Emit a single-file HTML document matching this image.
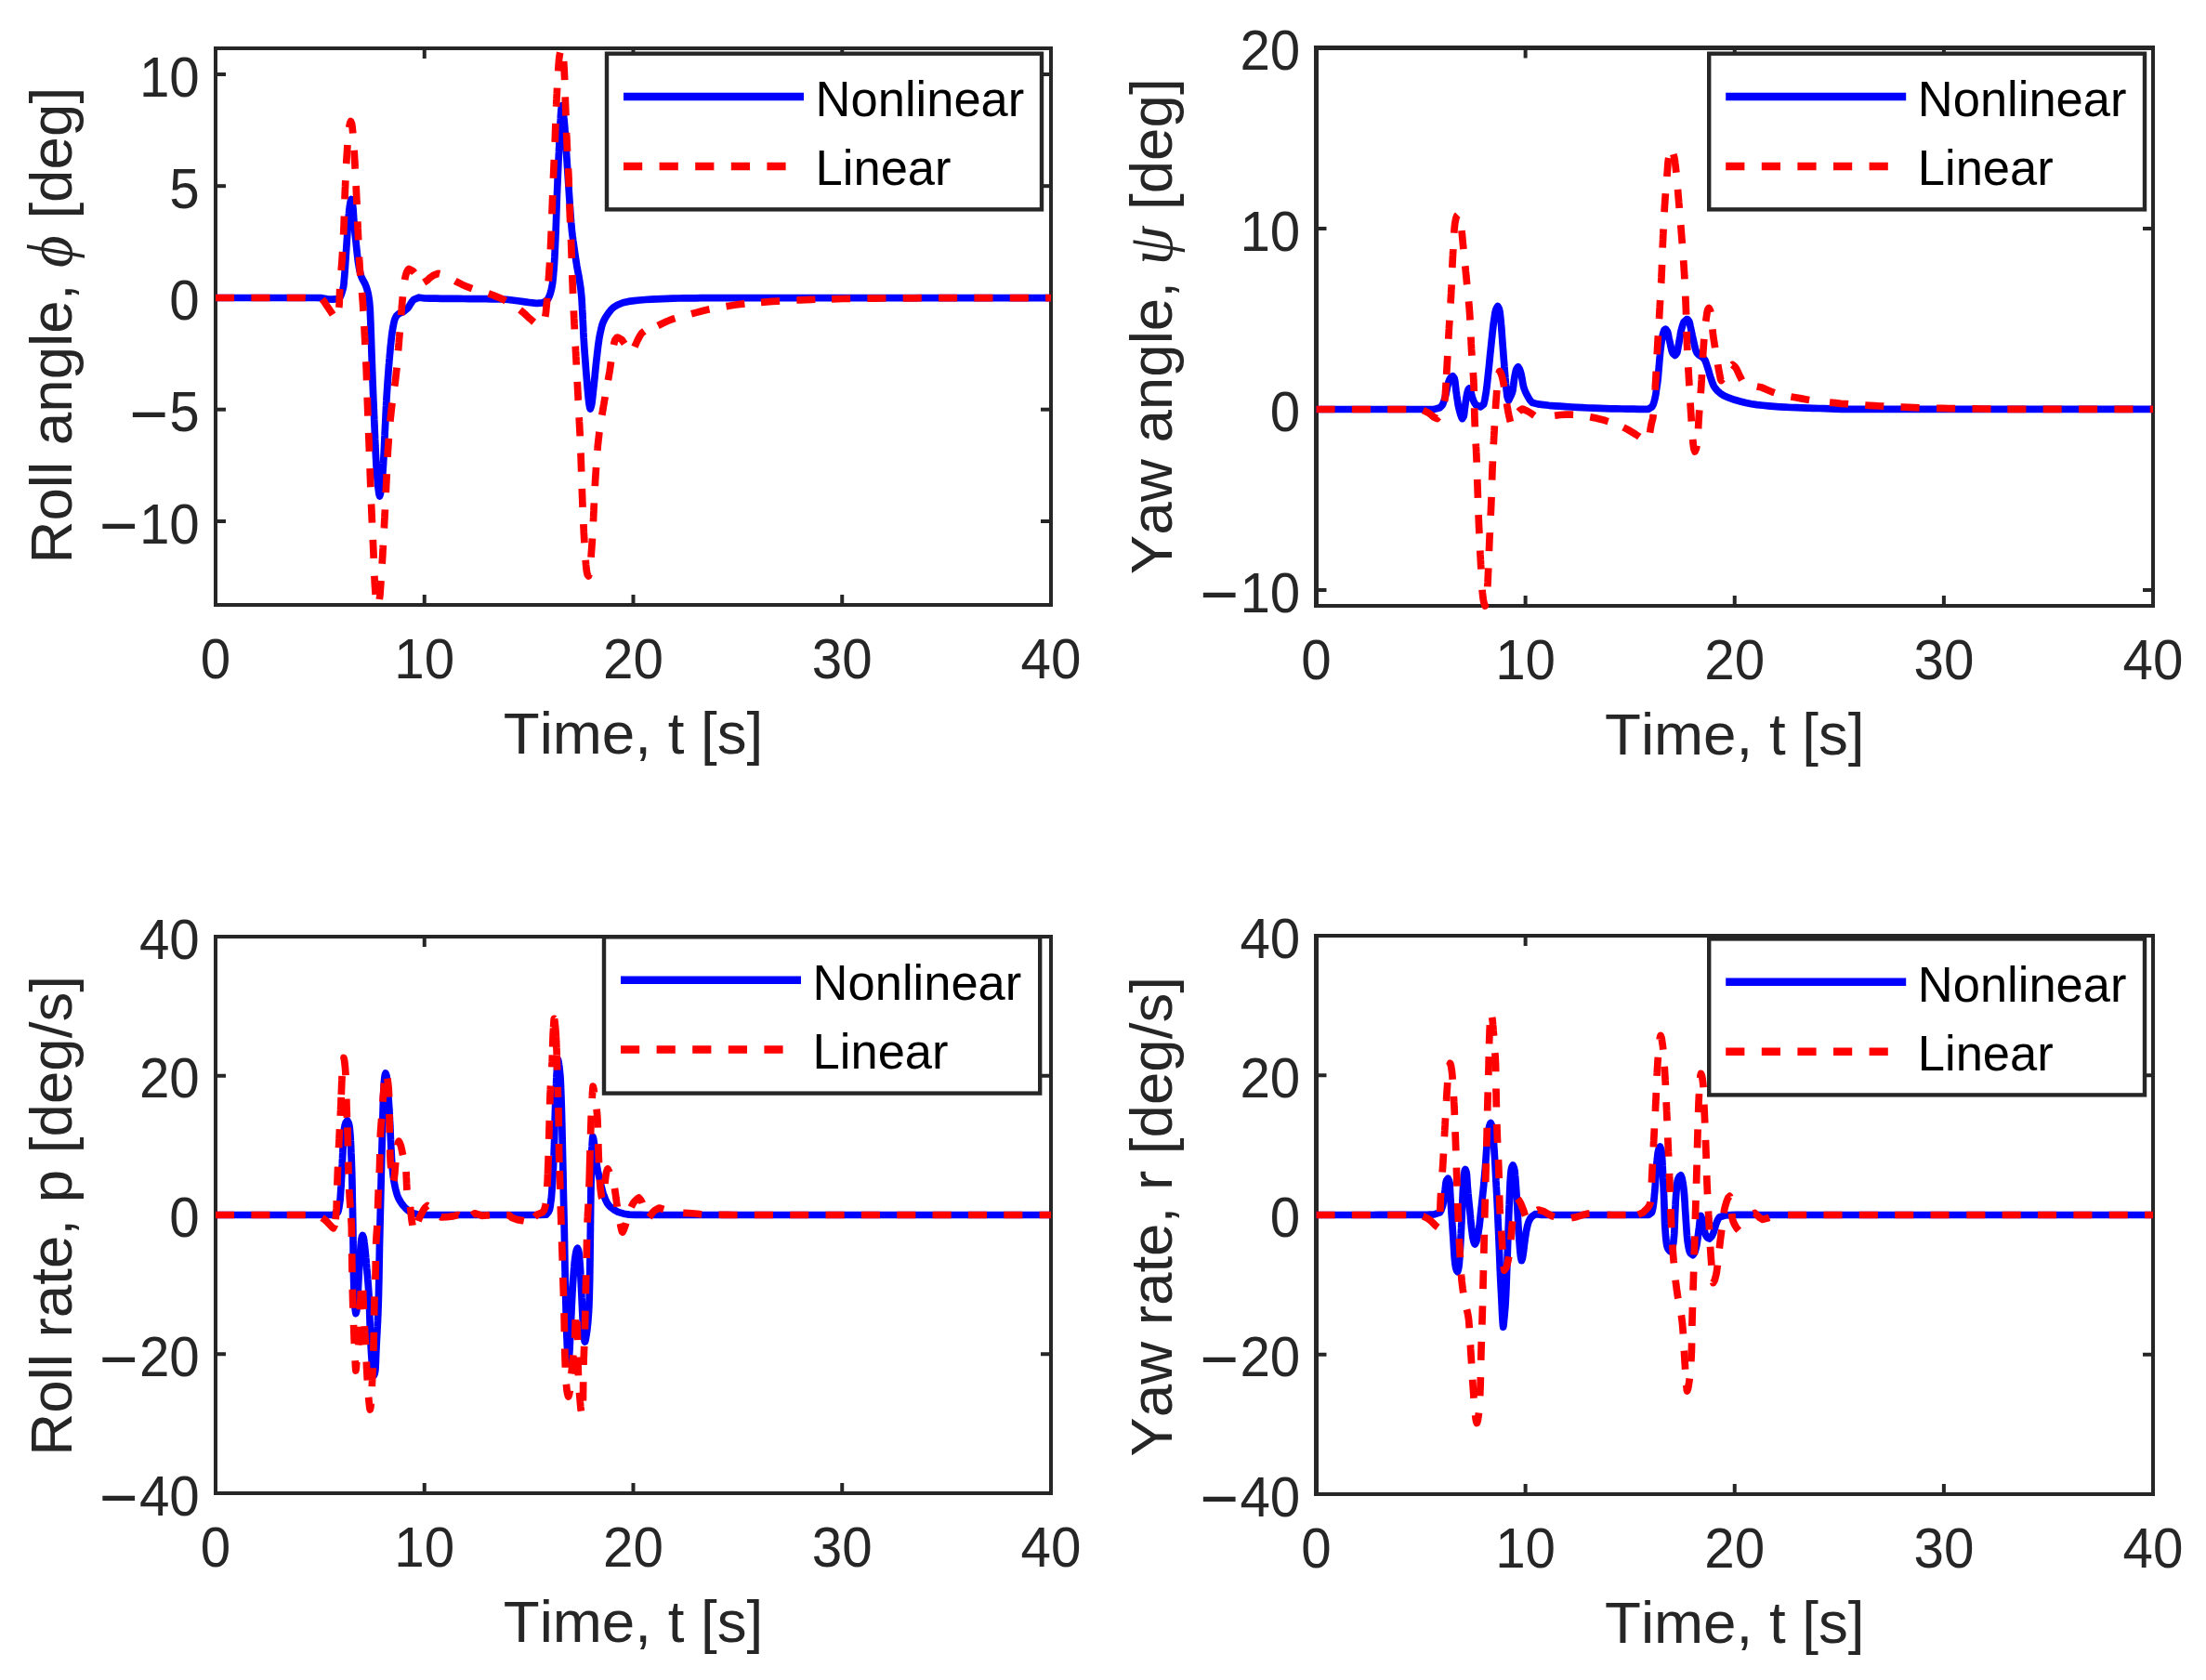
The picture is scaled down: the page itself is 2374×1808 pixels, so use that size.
<!DOCTYPE html>
<html lang="en"><head><meta charset="utf-8"><title>Lateral response: nonlinear vs linear</title>
<style>html,body{margin:0;padding:0;background:#fff}svg{display:block}text{font-family:'Liberation Sans', Arial, Helvetica, sans-serif;font-kerning:none;font-variant-ligatures:none}.tk{font-size:58.33px;fill:#262626}.lb{font-size:63.7px;fill:#262626}.lg{font-size:52.5px;fill:#000}.mn{font-size:71.5px;fill:#262626}.gk{font-family:"Liberation Serif","DejaVu Serif",serif;font-style:italic;font-size:67px}</style></head><body>
<svg width="2374" height="1808" viewBox="0 0 2374 1808">
<rect width="2374" height="1808" fill="#fff"/>
<g id="ax1">
<clipPath id="c1"><rect x="228" y="48" width="907" height="607"/></clipPath>
<g fill="#262626">
<rect x="230" y="50" width="4" height="603"/>
<rect x="1129" y="50" width="4" height="603"/>
<rect x="230" y="50" width="903" height="4"/>
<rect x="230" y="649" width="903" height="4"/>
<rect x="454.75" y="640" width="4" height="11"/>
<rect x="454.75" y="52" width="4" height="11"/>
<rect x="679.5" y="640" width="4" height="11"/>
<rect x="679.5" y="52" width="4" height="11"/>
<rect x="904.25" y="640" width="4" height="11"/>
<rect x="904.25" y="52" width="4" height="11"/>
<rect x="232" y="78" width="11" height="4"/>
<rect x="1120" y="78" width="11" height="4"/>
<rect x="232" y="198.2" width="11" height="4"/>
<rect x="1120" y="198.2" width="11" height="4"/>
<rect x="232" y="318.5" width="11" height="4"/>
<rect x="1120" y="318.5" width="11" height="4"/>
<rect x="232" y="438.7" width="11" height="4"/>
<rect x="1120" y="438.7" width="11" height="4"/>
<rect x="232" y="559" width="11" height="4"/>
<rect x="1120" y="559" width="11" height="4"/>
</g>
<text class="tk" text-anchor="middle" transform="translate(232 730.3) scale(1 1.04)">0</text>
<text class="tk" text-anchor="middle" transform="translate(456.75 730.3) scale(1 1.04)">10</text>
<text class="tk" text-anchor="middle" transform="translate(681.5 730.3) scale(1 1.04)">20</text>
<text class="tk" text-anchor="middle" transform="translate(906.25 730.3) scale(1 1.04)">30</text>
<text class="tk" text-anchor="middle" transform="translate(1131 730.3) scale(1 1.04)">40</text>
<text class="tk" text-anchor="end" transform="translate(214.8 103.5) scale(1 1.04)">10</text>
<text class="tk" text-anchor="end" transform="translate(214.8 223.7) scale(1 1.04)">5</text>
<text class="tk" text-anchor="end" transform="translate(214.8 344) scale(1 1.04)">0</text>
<text class="tk" text-anchor="end" transform="translate(214.8 464.2) scale(1 1.04)">5</text>
<text class="mn" text-anchor="end" x="181.16" y="470">−</text>
<text class="tk" text-anchor="end" transform="translate(214.8 584.5) scale(1 1.04)">10</text>
<text class="mn" text-anchor="end" x="148.71" y="590.3">−</text>
<text class="lb" text-anchor="middle" transform="translate(681.5 811.3) scale(1 1)">Time, t [s]</text>
<text class="lb" text-anchor="middle" transform="translate(76.8 350.25) rotate(-90) scale(1 1)" xml:space="preserve">Roll angle, <tspan class="gk">ϕ</tspan> [deg]</text>
<g clip-path="url(#c1)" fill="none" stroke-width="7.7" stroke-linejoin="round">
<path stroke="#0000ff" d="M232.0 320.5L238.0 320.5L244.0 320.5L250.0 320.5L256.0 320.5L262.0 320.5L268.0 320.5L274.0 320.5L280.0 320.5L286.0 320.5L292.0 320.5L298.0 320.5L304.0 320.5L310.0 320.5L316.0 320.5L322.0 320.5L328.0 320.5L334.0 320.5L340.0 320.5L346.0 320.7L352.0 321.8L358.0 322.1L364.0 321.6L366.4 319.1L367.5 316.4L368.2 313.8L369.0 311.3L369.6 308.6L370.0 305.7L370.2 302.9L370.5 299.9L370.7 297.4L370.9 294.8L371.1 292.3L371.3 289.5L371.5 286.5L371.7 283.4L371.9 280.3L372.1 277.2L372.3 274.3L372.5 271.3L372.7 268.2L372.9 265.1L373.1 262.0L373.3 258.9L373.5 255.9L373.7 252.9L373.9 249.9L374.1 247.1L374.3 244.4L374.5 241.8L374.7 238.8L375.0 235.9L375.2 232.9L375.5 230.1L375.7 227.5L376.0 224.7L376.4 221.9L376.8 219.3L377.3 216.6L378.1 214.5L379.0 217.1L379.4 219.9L379.8 222.8L380.1 225.7L380.3 228.7L380.5 231.9L380.7 235.1L380.9 238.1L381.1 240.6L381.3 243.4L381.6 246.0L381.8 248.6L382.1 251.5L382.4 254.3L382.7 257.1L383.0 259.9L383.3 262.9L383.6 265.8L383.9 268.7L384.2 271.6L384.5 274.4L384.8 277.1L385.2 280.0L385.5 282.5L386.0 285.3L386.4 287.8L386.9 290.3L387.5 292.9L388.1 295.4L389.0 298.0L390.1 300.5L391.6 303.1L392.9 305.6L393.9 308.1L394.8 310.7L395.5 313.2L396.1 315.7L396.6 318.3L397.0 320.8L397.4 323.5L397.7 326.2L397.9 328.8L398.1 331.3L398.3 333.9L398.4 337.0L398.6 340.4L398.7 344.1L398.9 347.8L399.0 351.5L399.1 354.2L399.2 357.0L399.3 359.9L399.4 362.9L399.5 365.9L399.6 369.0L399.7 372.1L399.8 375.2L399.9 378.3L400.0 381.3L400.1 384.2L400.2 387.0L400.3 389.8L400.4 392.5L400.5 395.2L400.6 397.9L400.7 400.6L400.8 403.3L400.9 406.0L401.0 408.7L401.1 411.3L401.2 413.9L401.3 416.5L401.4 419.1L401.5 421.7L401.6 424.3L401.7 426.8L401.8 429.3L402.0 433.1L402.1 436.8L402.3 440.4L402.4 444.0L402.6 447.6L402.7 451.2L402.9 454.9L403.0 458.5L403.2 462.2L403.3 465.8L403.5 469.4L403.6 472.9L403.8 476.4L403.9 479.8L404.1 483.1L404.2 486.3L404.4 489.4L404.5 492.3L404.7 495.1L404.8 497.8L405.0 501.0L405.2 504.0L405.4 506.9L405.6 509.7L405.8 512.4L406.0 514.9L406.3 517.9L406.5 520.6L406.8 523.4L407.2 526.2L407.5 528.9L407.9 531.6L408.6 534.0L409.4 531.3L409.8 528.7L410.2 526.1L410.5 523.5L410.8 520.8L411.1 518.3L411.3 515.5L411.6 512.6L411.8 510.0L412.0 507.4L412.2 504.6L412.4 501.7L412.6 498.7L412.7 496.1L412.9 493.4L413.0 490.5L413.2 487.5L413.3 484.3L413.5 481.1L413.6 477.9L413.8 474.6L413.9 471.4L414.1 468.2L414.2 465.0L414.4 462.0L414.5 458.9L414.7 455.8L414.8 452.6L415.0 449.5L415.1 446.3L415.3 443.1L415.4 440.0L415.6 437.0L415.7 434.0L415.9 431.2L416.0 428.4L416.2 425.8L416.4 422.6L416.6 419.4L416.8 416.4L417.0 413.4L417.2 410.5L417.4 407.7L417.6 404.9L417.8 402.3L418.0 399.7L418.2 397.1L418.4 394.1L418.7 391.1L418.9 388.1L419.2 385.3L419.4 382.5L419.7 379.7L419.9 376.9L420.2 374.2L420.4 371.6L420.7 369.1L421.0 366.2L421.3 363.6L421.6 360.7L422.0 357.9L422.4 355.3L422.8 352.8L423.3 350.2L423.8 347.6L424.4 345.0L425.3 342.5L426.7 339.9L429.5 337.4L435.0 334.9L438.0 332.4L440.1 329.9L441.6 327.3L443.2 324.8L445.4 322.3L451.0 320.2L457.0 321.0L463.0 321.1L469.0 321.2L475.0 321.3L481.0 321.3L487.0 321.4L493.0 321.4L499.0 321.5L505.0 321.6L511.0 321.6L517.0 321.7L523.0 321.7L529.0 321.8L535.0 321.9L541.0 322.0L547.0 322.5L553.0 323.2L559.0 324.0L565.0 324.9L571.0 325.7L577.0 326.3L578.0 326.3L584.0 325.8L588.6 323.3L590.2 320.8L591.4 318.2L592.3 315.6L593.0 313.0L593.6 310.4L594.1 307.8L594.6 305.1L594.9 302.3L595.2 299.5L595.5 296.8L595.7 293.9L596.0 290.9L596.2 288.3L596.4 285.5L596.6 282.3L596.7 279.8L596.9 277.0L597.0 274.1L597.2 271.1L597.3 267.9L597.5 264.6L597.6 261.3L597.8 257.8L597.9 254.3L598.1 250.7L598.2 247.0L598.3 244.3L598.4 241.5L598.5 238.5L598.6 235.5L598.7 232.4L598.8 229.3L598.9 226.1L599.0 223.0L599.1 219.9L599.2 217.0L599.3 214.1L599.4 211.4L599.5 208.8L599.6 206.2L599.7 203.7L599.8 201.2L600.0 197.5L600.1 193.8L600.3 190.3L600.4 186.8L600.6 183.3L600.7 179.9L600.9 176.6L601.0 173.3L601.2 170.1L601.3 166.9L601.5 163.7L601.6 160.6L601.8 157.6L601.9 154.5L602.1 151.6L602.2 148.6L602.4 145.7L602.5 142.8L602.7 139.9L602.8 137.1L603.0 134.2L603.1 131.2L603.3 128.0L603.4 125.0L603.6 122.2L603.8 119.5L604.1 116.9L604.5 114.2L604.7 113.9L605.4 116.5L605.9 119.3L606.3 122.1L606.6 125.0L606.9 127.8L607.2 130.3L607.4 133.0L607.7 135.8L607.9 138.9L608.1 141.7L608.3 144.7L608.5 147.8L608.7 151.0L608.9 154.3L609.1 157.5L609.3 160.7L609.5 163.8L609.7 166.8L609.9 169.8L610.1 172.8L610.3 175.8L610.5 178.9L610.7 181.9L610.9 184.9L611.1 187.9L611.3 190.9L611.5 193.9L611.7 197.0L611.9 200.0L612.1 203.1L612.3 206.2L612.5 209.3L612.7 212.3L612.9 215.3L613.1 218.2L613.3 221.0L613.5 223.8L613.7 226.6L613.9 229.5L614.1 232.2L614.3 235.0L614.5 237.6L614.7 240.1L615.0 243.0L615.2 245.7L615.5 248.6L615.8 251.3L616.1 253.8L616.5 256.6L616.8 259.3L617.2 261.9L617.6 264.7L618.0 267.5L618.4 270.4L618.8 273.2L619.2 275.9L619.6 278.5L620.0 281.1L620.4 283.6L620.8 286.4L621.3 289.0L621.8 291.7L622.3 294.3L622.8 296.8L623.3 299.6L623.7 302.3L624.1 304.9L624.5 307.6L624.9 310.1L625.2 313.0L625.5 315.9L625.8 318.6L626.0 321.2L626.2 324.3L626.3 326.9L626.5 329.6L626.6 332.4L626.8 335.3L626.9 338.1L627.1 341.0L627.2 344.0L627.4 347.2L627.5 350.5L627.7 353.9L627.8 357.2L628.0 360.3L628.1 363.2L628.3 365.8L628.5 369.1L628.7 372.2L628.9 375.2L629.1 378.0L629.3 380.8L629.5 383.4L629.7 386.0L629.9 388.6L630.1 391.1L630.3 394.2L630.5 396.7L630.7 399.2L630.9 401.8L631.1 404.3L631.3 406.8L631.6 409.9L631.8 412.9L632.1 415.9L632.3 418.8L632.6 421.5L632.8 424.2L633.1 427.1L633.4 429.9L633.7 432.6L634.1 435.4L634.6 438.2L635.2 440.0L636.2 437.4L636.8 434.8L637.2 432.1L637.5 429.3L637.8 426.7L638.1 424.0L638.4 421.2L638.7 418.4L639.0 415.7L639.3 413.0L639.6 410.1L639.9 407.1L640.2 404.5L640.4 401.9L640.7 399.3L640.9 396.7L641.2 394.2L641.5 391.2L641.8 388.4L642.1 385.8L642.4 383.1L642.7 380.5L643.0 377.9L643.3 375.4L643.6 372.6L644.0 369.9L644.4 367.1L644.8 364.3L645.3 361.6L645.8 359.0L646.4 356.3L647.0 353.7L647.6 351.1L648.4 348.5L649.4 346.0L650.6 343.5L652.1 340.9L653.8 338.4L655.6 335.8L657.6 333.3L660.3 330.8L664.4 328.3L670.4 325.8L676.4 324.4L682.4 323.6L688.4 323.0L694.4 322.5L700.4 322.2L706.4 321.9L712.4 321.6L718.4 321.3L724.4 321.1L730.4 321.0L736.4 320.9L742.4 320.8L748.4 320.8L754.4 320.7L760.4 320.7L766.4 320.6L772.4 320.6L778.4 320.6L784.4 320.6L790.4 320.6L796.4 320.6L802.4 320.6L808.4 320.6L814.4 320.6L820.4 320.6L826.4 320.6L832.4 320.6L838.4 320.6L844.4 320.6L850.4 320.6L856.4 320.6L862.4 320.6L868.4 320.6L874.4 320.6L880.4 320.6L886.4 320.6L892.4 320.6L898.4 320.6L904.4 320.6L910.4 320.6L916.4 320.6L922.4 320.6L928.4 320.6L934.4 320.6L940.4 320.6L946.4 320.6L952.4 320.6L958.4 320.6L964.4 320.6L970.4 320.6L976.4 320.6L982.4 320.6L988.4 320.6L994.4 320.6L1000.4 320.6L1006.4 320.6L1012.4 320.6L1018.4 320.6L1024.4 320.6L1030.4 320.6L1036.4 320.6L1042.4 320.6L1048.4 320.6L1054.4 320.6L1060.4 320.6L1066.4 320.6L1072.4 320.6L1078.4 320.6L1084.4 320.6L1090.4 320.6L1096.4 320.6L1102.4 320.6L1108.4 320.6L1114.4 320.6L1120.4 320.6L1126.4 320.6L1131.0 320.6"/>
<g stroke="#ff0000" stroke-dasharray="20.1 18.25">
<path d="M232.0 320.5L238.0 320.5L244.0 320.5L250.0 320.5L256.0 320.5L262.0 320.5L268.0 320.5L274.0 320.5L280.0 320.5L286.0 320.5L292.0 320.5L298.0 320.5L304.0 320.5L310.0 320.5L316.0 320.5L322.0 320.5L328.0 320.5L334.0 320.8L340.0 321.0L346.0 321.8L346.7 322.0"/>
<path d="M346.7 322.0L348.8 324.5L350.4 327.1L352.1 329.6L353.8 332.1L355.5 334.6L357.2 337.2L358.9 339.8L360.5 342.3L361.5 343.0L363.0 340.3L363.5 337.7L364.0 335.0L364.6 332.3L364.9 329.7L365.2 326.4L365.3 322.6L365.4 319.8L365.5 316.8L365.6 313.9L365.7 311.3L365.9 308.3L366.0 305.8L366.2 302.7L366.4 300.0L366.6 297.4L366.9 294.4L367.0 293.3"/>
<path d="M367.2 291.0L367.4 288.1L367.7 284.9L367.9 282.2L368.1 279.2L368.3 276.1L368.5 273.0L368.7 269.7L368.9 266.4L369.0 263.8L369.2 261.1L369.3 258.4L369.5 255.5L369.6 252.6L369.8 249.5L369.9 246.3L370.1 243.0L370.2 239.5L370.3 236.8L370.4 234.0L370.5 231.0L370.6 227.9L370.7 224.7L370.8 221.4L370.9 218.2L371.0 215.1L371.1 212.0L371.2 209.1L371.3 206.3L371.4 203.8L371.6 200.2L371.7 196.8L371.9 193.4L372.0 190.1L372.2 186.9L372.3 183.8L372.5 180.8L372.6 177.9L372.8 175.1L372.9 172.4L373.1 169.8L373.3 166.5L373.5 163.3L373.7 160.3L373.9 157.2L374.1 154.3L374.3 151.6L374.5 148.9L374.7 145.9L375.0 143.3L375.3 140.6L375.6 138.3"/>
<path d="M375.7 137.2L376.2 134.6L376.8 132.0L377.5 130.6L378.6 133.3L379.0 136.1L379.3 138.9L379.6 141.5L379.8 144.2L380.1 147.3L380.3 150.0L380.5 152.8L380.7 155.8L380.9 158.9L381.1 162.1L381.3 165.4L381.5 168.7L381.7 172.0L381.8 174.6L382.0 177.2L382.1 179.9L382.3 182.7L382.4 185.5L382.6 188.4L382.7 191.4L382.9 194.4L383.0 197.4L383.2 200.5L383.3 203.6L383.5 206.8L383.6 210.1L383.8 213.5L383.9 217.0L384.1 220.6L384.2 224.2L384.4 227.9L384.5 231.6L384.7 235.2L384.8 238.8L385.0 242.3L385.1 245.7L385.3 249.1L385.4 252.5L385.6 255.9L385.7 259.4L385.9 262.8L386.0 266.2L386.2 269.5L386.3 272.7L386.5 275.8L386.6 278.7L386.8 281.5L386.9 284.1L387.1 287.2L387.3 290.1L387.5 292.8L387.7 295.3L388.0 298.3L388.2 301.1L388.5 303.8L388.7 306.3L389.0 308.9L389.2 311.5L389.5 314.1L389.7 316.8L390.0 319.8L390.2 322.9L390.4 325.6L390.6 328.5L390.8 331.5L391.0 334.8L391.2 337.3L391.3 339.9L391.5 342.6L391.6 345.4L391.8 348.1L391.9 350.9"/>
<path d="M391.9 350.9L392.1 353.8L392.2 356.7L392.4 359.5L392.5 362.4L392.7 365.3L392.8 368.2L393.0 371.1L393.1 374.1L393.3 377.1L393.4 380.2L393.6 383.4L393.7 386.6L393.9 389.9L394.0 393.3L394.2 396.9L394.3 400.5L394.4 403.1L394.5 405.8L394.6 408.6L394.7 411.5L394.8 414.5L394.9 417.6L395.0 420.7L395.1 423.8L395.2 426.9L395.3 429.9L395.4 432.9L395.5 435.8L395.6 438.6L395.7 441.3L395.8 443.9L395.9 446.5L396.0 449.1L396.1 451.6L396.3 455.4L396.4 459.1L396.6 462.8L396.7 466.5L396.8 469.0L396.9 471.5L397.0 474.1L397.1 476.7L397.2 479.3L397.3 482.0L397.4 484.7L397.5 487.5L397.6 490.2L397.7 493.0L397.8 495.7L397.9 498.5L398.0 501.2L398.1 504.0L398.2 506.7L398.3 509.4L398.4 512.1L398.5 514.8L398.6 517.5L398.7 520.1L398.8 522.8L398.9 525.4L399.0 528.1L399.1 530.7L399.2 533.4L399.3 536.0L399.4 538.6L399.5 541.1L399.6 543.7L399.8 547.4L399.9 551.0L400.1 554.6L400.2 558.0L400.4 561.3L400.5 564.5L400.7 567.7L400.8 570.8L401.0 573.9L401.1 577.0L401.3 580.1L401.4 583.3L401.6 586.5L401.7 589.8L401.9 593.1L402.0 596.7L402.1 599.2L402.2 601.8L402.3 604.4L402.4 607.1L402.5 609.7L402.6 612.3L402.7 614.9L402.8 617.4L402.9 618.6"/>
<path d="M402.9 619.8L403.1 623.3L403.2 626.4L403.4 629.2L403.6 632.3L403.8 635.3L404.0 637.9L404.2 640.7L404.5 643.3L404.9 646.1L405.7 648.6L406.4 649.5L407.9 646.8L408.3 645.0"/>
<path d="M408.3 645.0L408.7 642.2L409.0 639.5L409.2 636.5L409.4 634.0L409.6 631.3L409.8 628.3L410.0 625.0L410.2 622.5L410.3 619.9L410.5 617.4L410.7 614.2L410.9 611.1L411.1 608.0L411.3 604.9L411.5 601.7L411.7 598.5L411.9 595.2L412.0 592.6L412.2 590.0L412.3 587.3L412.5 584.7L412.6 582.0L412.8 579.2L412.9 576.5L413.1 573.7L413.2 570.9L413.4 568.0L413.5 565.2L413.7 562.3L413.8 559.4L414.0 556.5L414.1 553.6L414.3 550.6L414.4 547.5L414.6 544.5L414.7 541.4L414.9 538.3L415.0 535.1L415.2 532.0L415.3 528.9L415.5 525.8L415.6 522.7L415.8 519.6L415.9 516.6L416.1 513.4L416.2 510.2L416.4 506.9L416.5 503.7L416.7 500.4L416.8 497.2L417.0 494.1L417.1 491.1L417.3 488.2L417.4 485.4L417.6 482.9L417.8 479.8L418.0 476.8L418.2 474.0L418.4 471.3L418.6 468.7L418.8 466.2L419.0 463.1L419.3 460.2L419.5 457.4L419.8 454.7L420.0 452.1L420.3 449.6L420.6 446.6L420.9 443.8L421.2 441.0L421.5 438.4L421.8 435.6L422.2 432.9L422.5 430.4L422.9 427.6L423.3 425.0L423.7 422.3L424.1 419.6L424.5 416.9L424.9 414.1L425.3 411.4L425.6 408.6L425.9 406.1L426.2 403.4L426.5 400.5L426.8 397.9L427.0 395.3L427.3 392.5L427.5 389.7L427.8 386.8L428.0 383.8L428.3 380.8L428.5 377.8L428.8 374.8L429.0 371.8L429.3 368.8L429.5 365.8L429.8 362.8L430.0 359.7L430.2 357.2L430.4 354.6L430.6 352.0L430.8 349.5L431.0 346.9L431.2 344.3L431.4 341.8L431.7 338.7L431.9 335.7L432.2 332.8L432.4 330.0L432.7 327.3L432.9 324.5L433.2 321.7L433.4 318.9L433.7 316.2L433.9 313.6L434.2 310.7L434.5 308.0L434.9 305.2L435.3 302.7L435.8 300.1L436.3 297.5L437.0 294.9L437.9 292.3L439.5 289.8L440.0 289.5L444.7 292.0L446.8 294.6L448.6 297.1L450.5 299.7L452.1 302.2L454.3 304.3L456.2 303.9"/>
<path d="M456.2 303.9L460.1 301.4L462.8 298.8L466.3 296.3L471.4 294.3L477.4 295.8L483.0 298.3L487.2 300.8L491.5 303.3L496.7 305.9L502.3 308.4L508.3 310.7L514.3 312.6L520.3 314.2L525.1 315.7"/>
<path d="M525.7 315.9L531.7 318.1L537.7 320.6L543.0 323.1L547.7 325.6L551.9 328.1L555.7 330.6L559.2 333.1L562.3 335.7L565.1 338.2L567.8 340.7L570.5 343.2L573.4 345.7L576.4 348.3L581.0 349.8L584.2 347.3L585.6 344.7L586.4 342.1L587.0 339.4L587.4 336.8L587.7 334.0L587.9 331.5L588.2 328.8L588.4 326.1L588.7 323.3L588.9 320.3L589.1 317.8L589.3 315.1L589.5 312.3L589.7 309.5L589.9 306.7L590.1 303.9L590.3 301.2L590.5 298.5L590.7 295.7L590.9 292.9L591.1 290.1L591.3 287.2L591.5 284.1L591.7 281.0L591.9 277.7L592.1 275.1L592.2 272.4L592.4 269.6L592.4 268.6"/>
<path d="M592.4 268.6L592.6 265.5L592.7 262.1L592.9 258.5L593.0 255.9L593.1 253.3L593.2 250.7L593.3 248.0L593.4 245.2L593.5 242.5L593.6 239.8L593.7 237.1L593.8 234.4L593.9 231.8L594.0 229.2L594.1 226.7L594.2 224.1L594.3 221.5L594.4 218.9L594.5 216.3L594.6 213.7L594.7 211.2L594.8 208.6L594.9 206.0L595.0 203.5L595.1 201.0L595.2 197.2L595.4 193.6L595.5 190.0L595.7 186.6L595.8 183.3L596.0 180.0L596.1 176.7L596.3 173.5L596.4 170.3L596.6 167.0L596.7 163.7L596.9 160.3L597.0 156.7L597.1 154.3"/>
<path d="M597.2 153.0L597.3 150.5L597.4 147.8L597.5 145.0L597.6 142.1L597.7 139.2L597.8 136.3L597.9 133.4L598.0 130.5L598.1 127.7L598.2 125.0L598.3 122.3L598.4 119.8L598.5 116.2L598.7 112.9L598.8 109.7L599.0 106.7L599.1 103.7L599.3 100.9L599.4 98.1L599.6 95.4L599.7 92.8L599.9 90.2L600.0 87.6L600.2 85.0L600.3 82.4L600.5 79.8L600.6 77.2"/>
<path d="M600.7 76.4L600.9 73.2L601.1 70.2L601.3 67.6L601.5 65.0L601.8 62.2L602.2 59.5L602.7 56.8L603.4 54.3L603.8 53.8L604.9 56.5L605.6 59.2L606.1 61.7L606.5 64.3L606.6 66.1"/>
<path d="M606.6 66.1L606.8 69.0L607.0 72.3L607.2 75.1L607.3 78.0L607.5 81.6L607.6 84.2L607.7 87.0L607.8 90.0L607.9 93.1L608.0 96.3L608.1 99.5L608.2 102.7L608.3 105.8L608.4 109.0L608.5 112.0L608.6 114.8L608.7 117.5L608.8 120.2L608.9 122.9L609.0 125.6L609.1 128.2L609.2 130.9L609.3 133.5L609.4 136.1L609.5 138.6L609.6 141.2L609.7 144.9L609.9 148.5L610.0 152.0L610.2 155.4L610.3 158.6L610.5 161.7L610.6 164.6L610.8 167.4L610.9 170.2L611.1 173.0L611.2 175.8L611.4 178.6L611.5 181.5L611.7 184.6L611.8 187.8L612.0 191.2L612.1 194.9L612.2 197.6L612.3 200.4L612.4 203.4L612.5 206.4L612.6 209.5L612.7 212.6L612.8 215.8L612.9 218.9L613.0 222.0L613.1 224.9L613.2 227.8L613.3 230.5L613.4 233.1L613.5 235.6L613.7 239.2L613.8 242.7L614.0 246.2L614.1 249.6L614.3 252.9L614.4 256.4L614.6 259.9L614.7 263.5L614.8 266.0L614.9 268.6L615.0 271.3L615.1 274.1L615.2 277.0L615.3 280.0L615.4 283.1L615.5 286.1L615.6 289.2L615.7 292.3L615.8 295.3L615.9 298.3L616.0 301.2L616.1 304.0L616.2 306.7L616.3 309.3L616.4 311.9L616.5 314.4L616.7 318.1L616.8 321.8L617.0 325.3L617.1 328.8L617.3 332.2L617.4 335.6L617.6 338.9L617.7 342.2L617.9 345.3L618.0 348.4L618.2 351.4L618.3 354.4L618.5 357.4L618.6 360.3L618.8 363.2L618.9 366.1L619.1 369.1L619.2 372.0L619.4 374.9L619.5 377.7L619.7 380.6L619.8 383.4L620.0 386.2L620.1 389.0L620.3 391.9L620.4 394.7L620.6 397.5L620.7 400.4L620.9 403.3L621.0 406.2L621.2 409.1L621.3 412.1L621.5 415.1L621.6 418.1L621.8 421.1L621.9 424.1L622.1 427.1L622.2 430.2L622.4 433.2L622.5 436.2L622.7 439.3L622.8 442.3L623.0 445.3L623.1 448.2L623.3 451.1L623.4 453.9L623.6 456.7L623.7 459.6L623.9 462.4L624.0 465.3L624.2 468.2L624.3 471.3L624.5 474.4L624.6 477.7L624.8 481.2L624.9 484.9L625.0 487.6L625.1 490.4L625.2 493.3L625.3 496.3L625.4 499.4L625.5 502.5L625.6 505.6L625.7 508.7L625.8 511.8L625.9 514.8L626.0 517.7L626.1 520.5L626.2 523.2L626.3 525.9L626.4 528.7L626.5 531.3L626.6 534.0L626.7 536.7L626.8 539.3L626.9 541.9L627.0 544.4L627.1 546.9L627.3 550.6L627.4 554.1L627.6 557.5L627.7 560.8L627.9 563.9L628.0 567.0L628.2 570.1L628.3 573.0L628.5 575.9L628.6 578.6L628.8 581.3L628.9 583.8L629.1 587.1L629.3 590.3L629.5 593.4L629.7 596.4L629.9 599.3L630.1 602.1"/>
<path d="M630.2 602.8L630.4 605.3L630.6 608.1L630.9 610.9L631.2 613.4L631.6 615.9L632.2 618.5L633.3 620.0L634.4 617.3L634.9 614.7L635.2 612.1L635.4 609.5L635.6 606.6L635.8 603.5L636.0 600.4L636.2 597.4L636.4 594.6L636.6 591.9L636.8 589.1L637.0 586.3L637.2 583.4L637.4 580.4L637.6 577.4L637.8 574.1L637.9 571.6L638.1 569.0L638.2 566.2L638.4 563.2L638.5 559.9L638.7 556.4L638.8 552.9L639.0 549.4L639.1 545.9L639.3 542.6L639.4 539.5L639.6 536.6L639.7 533.7L639.9 530.8L640.0 528.0L640.2 525.2L640.3 522.6L640.5 519.9L640.6 517.4L640.8 514.1L641.0 511.0L641.2 508.0L641.4 505.0L641.6 502.0L641.8 499.1L642.0 496.3L642.2 493.5L642.4 490.8L642.6 488.2L642.8 485.6L643.1 482.6L643.3 479.8L643.6 477.2L643.9 474.3L644.2 471.7L644.5 469.2L644.8 466.4L645.2 463.7L645.5 461.2L645.9 458.4L646.3 455.8L646.7 453.3L647.2 450.6L647.6 447.9L648.1 445.3L648.5 442.7L649.0 440.0L649.4 437.3L649.9 434.6L650.3 431.9L650.8 429.3L651.2 426.8L651.7 424.3L652.2 421.5L652.7 418.8L653.2 416.1L653.7 413.3L654.2 410.6L654.6 408.1L655.1 405.5L655.5 402.8L656.0 400.1L656.4 397.3L656.8 394.6L657.2 392.1L657.5 389.5L657.9 386.8L658.2 384.2L658.6 381.7L659.0 378.9L659.4 376.4L659.9 373.7L660.5 371.0L661.1 368.5L661.8 365.9L663.8 363.4L664.8 363.0L669.1 365.5L670.9 368.1L672.6 370.6L674.3 373.1L676.2 375.6L678.3 378.1L679.5 378.8L681.8 376.2L682.8 373.7L683.9 371.1L685.1 368.5L686.3 365.9L687.6 363.4L689.0 360.9L690.7 358.4L694.2 355.9L700.2 353.4L706.2 351.2L708.0 350.5"/>
<path d="M708.0 350.5L713.0 348.0L718.4 345.5L724.4 343.2L730.4 341.3L736.4 339.7L742.4 338.2L748.4 336.6L754.4 335.0L760.4 333.5L766.4 332.3L772.4 331.2L778.4 330.1L784.4 329.2L790.4 328.2L796.4 327.4L802.4 326.7L808.4 326.2L814.4 325.7L819.0 325.3"/>
<path d="M819.0 325.3L825.0 324.9L831.0 324.4L837.0 324.1L843.0 323.7L849.0 323.4L855.0 323.1L861.0 322.9L867.0 322.6L873.0 322.4L879.0 322.2L885.0 322.1L891.0 321.9L895.0 321.8"/>
<path d="M895.0 321.8L901.0 321.7L907.0 321.5L913.0 321.4L919.0 321.3L925.0 321.2L931.0 321.2L937.0 321.1L943.0 321.1L949.0 321.0L955.0 321.0L961.0 320.9L967.0 320.9L973.0 320.8L979.0 320.8L985.0 320.8L991.0 320.7L997.0 320.7L1003.0 320.7L1009.0 320.7L1015.0 320.7L1021.0 320.7L1027.0 320.7L1033.0 320.7L1039.0 320.6L1045.0 320.6L1051.0 320.6L1057.0 320.6L1063.0 320.6L1069.0 320.6L1075.0 320.6L1081.0 320.6L1087.0 320.6L1093.0 320.6L1099.0 320.6L1105.0 320.6L1111.0 320.6L1117.0 320.6L1123.0 320.6L1129.0 320.6L1131.0 320.6"/>
</g>
</g>
<rect x="653" y="57.7" width="468" height="167.7" fill="#fff" stroke="#262626" stroke-width="4.4"/>
<path d="M671 104.1H865" stroke="#0000ff" stroke-width="8.5" fill="none"/>
<path d="M671 179H846" stroke="#ff0000" stroke-width="8.5" stroke-dasharray="20.2 18.4" fill="none"/>
<text class="lg" transform="translate(877.6 125.1) scale(1 1.02)">Nonlinear</text>
<text class="lg" transform="translate(877.6 199.3) scale(1 1.02)">Linear</text>
</g>
<g id="ax2">
<clipPath id="c2"><rect x="1412" y="47" width="909" height="609"/></clipPath>
<g fill="#262626">
<rect x="1414" y="49" width="5" height="605"/>
<rect x="2315" y="49" width="4" height="605"/>
<rect x="1414" y="49" width="905" height="5"/>
<rect x="1414" y="650" width="905" height="4"/>
<rect x="1639.62" y="641" width="4" height="11"/>
<rect x="1639.62" y="51.5" width="4" height="11"/>
<rect x="1864.75" y="641" width="4" height="11"/>
<rect x="1864.75" y="51.5" width="4" height="11"/>
<rect x="2089.88" y="641" width="4" height="11"/>
<rect x="2089.88" y="51.5" width="4" height="11"/>
<rect x="1416.5" y="244" width="11" height="4"/>
<rect x="2306" y="244" width="11" height="4"/>
<rect x="1416.5" y="438.5" width="11" height="4"/>
<rect x="2306" y="438.5" width="11" height="4"/>
<rect x="1416.5" y="633" width="11" height="4"/>
<rect x="2306" y="633" width="11" height="4"/>
</g>
<text class="tk" text-anchor="middle" transform="translate(1416.5 731.3) scale(1 1.04)">0</text>
<text class="tk" text-anchor="middle" transform="translate(1641.62 731.3) scale(1 1.04)">10</text>
<text class="tk" text-anchor="middle" transform="translate(1866.75 731.3) scale(1 1.04)">20</text>
<text class="tk" text-anchor="middle" transform="translate(2091.88 731.3) scale(1 1.04)">30</text>
<text class="tk" text-anchor="middle" transform="translate(2317 731.3) scale(1 1.04)">40</text>
<text class="tk" text-anchor="end" transform="translate(1399.3 75) scale(1 1.04)">20</text>
<text class="tk" text-anchor="end" transform="translate(1399.3 269.5) scale(1 1.04)">10</text>
<text class="tk" text-anchor="end" transform="translate(1399.3 464) scale(1 1.04)">0</text>
<text class="tk" text-anchor="end" transform="translate(1399.3 658.5) scale(1 1.04)">10</text>
<text class="mn" text-anchor="end" x="1333.21" y="664.3">−</text>
<text class="lb" text-anchor="middle" transform="translate(1866.75 812.3) scale(1 1)">Time, t [s]</text>
<text class="lb" text-anchor="middle" transform="translate(1261.3 351.25) rotate(-90) scale(1 1)" xml:space="preserve">Yaw angle, <tspan class="gk">ψ</tspan> [deg]</text>
<g clip-path="url(#c2)" fill="none" stroke-width="7.7" stroke-linejoin="round">
<path stroke="#0000ff" d="M1416.5 440.5L1422.5 440.5L1428.6 440.5L1434.6 440.5L1440.7 440.5L1446.7 440.5L1452.8 440.5L1458.8 440.5L1464.9 440.5L1470.9 440.5L1477.0 440.5L1483.0 440.5L1489.1 440.5L1495.1 440.5L1501.2 440.5L1507.2 440.5L1513.3 440.5L1519.3 440.5L1525.4 440.5L1531.4 440.5L1537.5 440.5L1543.5 440.4L1549.6 438.7L1552.1 436.1L1553.2 433.6L1554.1 431.0L1554.9 428.4L1555.6 425.9L1556.2 423.3L1556.7 420.7L1557.2 418.2L1557.7 415.6L1558.4 413.1L1559.2 410.5L1560.2 407.9L1562.1 405.4L1563.4 404.8L1565.2 407.3L1565.8 410.0L1566.1 412.8L1566.4 415.4L1566.7 418.1L1567.0 420.8L1567.4 423.4L1567.7 426.0L1568.1 428.6L1568.5 431.3L1568.9 433.8L1569.3 436.3L1569.9 439.0L1570.5 441.5L1571.2 444.1L1572.0 446.8L1572.9 449.3L1573.7 450.5L1575.2 448.0L1575.7 445.3L1576.0 442.3L1576.3 439.8L1576.7 437.1L1577.0 434.4L1577.4 431.9L1577.8 429.3L1578.2 426.8L1578.7 424.2L1579.3 421.7L1580.1 419.2L1581.0 418.0L1582.7 420.6L1583.2 423.2L1583.8 425.7L1584.6 428.3L1585.5 430.8L1586.7 433.4L1588.5 435.9L1593.4 437.8L1596.6 435.3L1597.3 432.7L1597.9 430.0L1598.4 427.3L1598.8 424.7L1599.3 421.9L1599.6 419.4L1600.0 416.6L1600.3 414.0L1600.6 411.2L1600.9 408.4L1601.2 405.6L1601.5 402.7L1601.8 399.9L1602.1 397.1L1602.4 394.3L1602.7 391.3L1603.0 388.3L1603.2 385.8L1603.5 383.3L1603.7 380.8L1604.0 378.3L1604.3 375.3L1604.6 372.4L1604.9 369.6L1605.2 366.7L1605.5 363.9L1605.8 361.0L1606.1 358.2L1606.4 355.5L1606.7 352.8L1607.0 350.3L1607.3 347.5L1607.7 345.0L1608.1 342.2L1608.5 339.5L1608.9 336.9L1609.5 334.3L1610.4 331.7L1611.8 329.5L1613.2 332.1L1613.9 334.7L1614.3 337.4L1614.6 340.1L1614.9 343.1L1615.2 345.7L1615.4 348.4L1615.7 351.4L1615.9 354.0L1616.1 356.7L1616.3 359.5L1616.5 362.3L1616.7 365.1L1616.9 367.8L1617.1 370.5L1617.3 373.1L1617.5 375.8L1617.7 378.4L1617.9 381.1L1618.1 383.7L1618.3 386.3L1618.5 388.9L1618.7 391.5L1618.9 394.6L1619.2 397.7L1619.4 400.7L1619.7 403.8L1619.9 406.8L1620.2 409.8L1620.4 412.6L1620.7 415.2L1621.0 418.1L1621.3 420.8L1621.6 423.5L1621.9 426.2L1622.5 428.7L1623.5 431.0L1624.8 428.5L1626.0 425.9L1627.1 423.3L1627.9 420.6L1628.3 417.7L1628.7 415.0L1629.0 412.2L1629.4 409.4L1629.7 406.9L1630.2 404.3L1630.7 401.8L1631.3 399.1L1632.2 396.6L1633.7 394.8L1635.4 397.4L1636.3 400.0L1637.0 402.5L1637.5 405.0L1638.0 407.6L1638.4 410.3L1638.9 412.9L1639.4 415.5L1640.2 418.1L1641.2 420.7L1642.3 423.2L1643.6 425.7L1645.1 428.3L1646.6 430.8L1648.8 433.3L1654.8 434.9L1660.9 435.6L1666.9 436.3L1673.0 436.8L1679.0 437.2L1685.1 437.6L1691.1 438.0L1697.2 438.3L1703.2 438.7L1709.3 439.0L1715.3 439.2L1721.4 439.4L1727.4 439.6L1733.5 439.8L1739.5 439.9L1745.6 440.0L1751.6 440.1L1757.7 440.2L1763.7 440.3L1769.8 440.3L1774.0 440.3L1777.9 437.7L1779.2 435.2L1780.0 432.6L1780.7 430.0L1781.3 427.4L1781.8 424.7L1782.2 422.0L1782.6 419.1L1783.0 416.5L1783.4 413.9L1783.8 411.1L1784.1 408.5L1784.4 405.8L1784.6 402.8L1784.9 399.7L1785.1 396.8L1785.4 393.9L1785.6 390.9L1785.9 388.0L1786.1 385.1L1786.4 382.3L1786.6 379.7L1786.9 376.9L1787.3 374.0L1787.6 371.2L1788.0 368.7L1788.4 365.9L1788.8 363.2L1789.3 360.6L1790.0 358.0L1790.9 355.4L1792.5 354.2L1794.5 356.8L1795.2 359.4L1795.7 362.1L1796.2 364.6L1796.8 367.1L1797.4 369.8L1797.9 372.4L1798.5 375.0L1799.1 377.5L1800.0 380.1L1802.6 382.5L1804.7 379.9L1805.3 377.3L1805.8 374.7L1806.2 372.2L1806.7 369.6L1807.2 367.0L1807.6 364.3L1808.1 361.6L1808.5 359.1L1809.0 356.5L1809.7 353.8L1810.4 351.2L1811.2 348.7L1812.3 346.1L1815.3 343.6L1816.0 343.5L1817.8 346.0L1818.6 348.6L1819.1 351.3L1819.7 353.9L1820.2 356.4L1820.8 359.0L1821.3 361.6L1821.9 364.1L1822.5 366.8L1823.1 369.5L1823.7 372.1L1824.3 374.7L1825.0 377.3L1826.1 379.8L1828.6 382.3L1832.6 384.8L1834.8 387.4L1835.8 390.0L1836.7 392.6L1837.5 395.1L1838.3 397.7L1839.1 400.2L1839.8 402.8L1840.6 405.4L1841.5 408.0L1842.3 410.5L1843.3 413.1L1844.4 415.6L1846.1 418.1L1848.3 420.7L1851.2 423.2L1855.1 425.7L1860.7 428.2L1866.7 430.3L1872.8 432.0L1878.8 433.5L1884.9 434.7L1890.9 435.6L1897.0 436.3L1903.0 436.9L1909.1 437.4L1915.1 437.8L1921.2 438.2L1927.2 438.5L1933.3 438.7L1939.3 438.9L1945.4 439.1L1951.4 439.3L1957.5 439.5L1963.5 439.7L1969.6 439.9L1975.6 440.1L1981.7 440.3L1987.7 440.4L1993.8 440.4L1999.8 440.4L2005.9 440.4L2011.9 440.4L2018.0 440.4L2024.0 440.4L2030.1 440.4L2036.1 440.4L2042.2 440.4L2048.2 440.4L2054.3 440.4L2060.3 440.4L2066.4 440.4L2072.4 440.4L2078.5 440.4L2084.5 440.4L2090.6 440.4L2096.6 440.4L2102.7 440.4L2108.7 440.4L2114.8 440.4L2120.8 440.4L2126.9 440.4L2132.9 440.4L2139.0 440.4L2145.0 440.4L2151.1 440.4L2157.1 440.4L2163.2 440.4L2169.2 440.4L2175.3 440.4L2181.3 440.4L2187.4 440.4L2193.4 440.4L2199.5 440.4L2205.5 440.4L2211.6 440.4L2217.6 440.4L2223.7 440.4L2229.7 440.4L2235.8 440.4L2241.8 440.4L2247.9 440.4L2253.9 440.4L2260.0 440.4L2266.0 440.4L2272.1 440.4L2278.1 440.4L2284.2 440.4L2290.2 440.4L2296.3 440.4L2302.3 440.4L2308.4 440.4L2314.4 440.4L2317.0 440.4"/>
<g stroke="#ff0000" stroke-dasharray="20.1 18.25">
<path d="M1416.5 440.5L1422.5 440.5L1428.6 440.5L1434.6 440.5L1440.7 440.5L1446.7 440.5L1452.8 440.5L1458.8 440.5L1464.9 440.5L1470.9 440.5L1477.0 440.5L1483.0 440.5L1489.1 440.5L1495.1 440.5L1501.2 440.5L1507.2 440.5L1513.3 440.5L1519.3 440.5L1525.4 440.7L1531.4 441.4L1536.7 443.9L1540.2 446.5L1543.1 449.0L1546.5 450.5L1549.0 447.9L1550.0 445.4L1550.7 442.7L1551.3 440.2L1552.1 437.6L1553.3 435.0L1554.3 432.4L1554.9 429.8L1555.2 427.1L1555.4 424.1L1555.6 421.2L1555.8 418.1L1556.0 414.8L1556.2 412.1L1556.3 409.4L1556.5 406.7L1556.6 403.9L1556.7 403.0"/>
<path d="M1556.7 403.0L1556.8 400.3L1557.0 397.6L1557.1 394.9L1557.3 392.4L1557.4 389.9L1557.6 387.3L1557.7 384.6L1557.9 381.8L1558.0 379.0L1558.2 376.2L1558.3 373.3L1558.5 370.5L1558.6 367.6L1558.8 364.7L1558.9 361.9L1559.1 359.1L1559.2 356.4L1559.4 353.7L1559.5 351.1L1559.7 348.6L1559.9 345.3L1560.1 342.1L1560.3 338.9L1560.5 335.8L1560.7 332.6L1560.9 329.3L1561.1 326.0L1561.2 323.4L1561.4 320.8L1561.5 318.0L1561.7 315.2L1561.8 312.2L1562.0 308.9L1562.1 305.5L1562.3 301.9L1562.4 298.3L1562.6 294.6L1562.7 291.0L1562.9 287.4L1563.0 284.0L1563.2 280.8L1563.3 277.7L1563.5 274.9L1563.6 272.1L1563.8 269.2L1563.9 266.4L1564.1 263.6L1564.2 260.8L1564.4 258.1L1564.5 255.5L1564.7 252.2L1564.8 250.7"/>
<path d="M1564.8 250.7L1565.0 247.8L1565.2 245.2L1565.5 242.6L1565.8 240.0L1566.3 237.4L1566.8 234.9L1567.8 232.3L1569.1 231.0L1570.8 233.6L1571.5 236.3L1571.9 239.1L1572.3 241.9L1572.7 244.6L1573.0 247.4L1573.2 249.9L1573.5 252.7L1573.7 255.5L1574.0 258.3L1574.2 261.0L1574.5 263.5L1574.7 266.0L1575.0 268.5L1575.3 271.5L1575.6 274.5L1575.9 277.5L1576.2 280.4L1576.5 283.4L1576.8 286.4L1577.1 289.4L1577.3 291.9L1577.6 294.5L1577.8 297.0L1578.1 299.6L1578.3 302.2L1578.6 305.1L1578.9 308.0L1579.2 310.9L1579.5 313.8L1579.8 316.7L1580.1 319.2L1580.3 321.8L1580.6 324.6L1580.8 327.4L1581.1 330.4L1581.3 333.0L1581.5 335.7L1581.7 338.5L1581.9 341.7L1582.0 344.4L1582.2 347.3L1582.3 350.4L1582.5 353.6L1582.6 356.9L1582.8 360.2L1582.9 363.5L1583.1 366.7L1583.2 369.9L1583.4 372.9L1583.5 375.7L1583.7 378.3L1583.9 381.4L1584.1 384.3L1584.3 386.9L1584.5 389.5L1584.7 392.6L1584.9 395.1L1585.1 397.8L1585.3 400.7L1585.5 403.9L1585.7 406.5L1585.8 409.3L1586.0 412.4L1586.1 416.0L1586.2 419.0L1586.3 422.6L1586.4 426.7L1586.5 431.0L1586.6 435.5L1586.7 439.9L1586.8 444.1L1586.9 448.0L1587.0 451.4L1587.1 454.3L1587.2 456.8L1587.4 460.4L1587.5 463.7L1587.7 466.8L1587.8 469.6L1588.0 472.4L1588.1 475.1L1588.3 477.7L1588.4 480.5L1588.6 483.4L1588.7 486.4L1588.9 489.7L1589.0 493.3L1589.1 495.9L1589.2 498.6L1589.3 501.5L1589.4 504.4L1589.5 507.4L1589.6 510.4L1589.7 513.5L1589.8 516.6L1589.9 519.6L1590.0 522.7L1590.1 525.6L1590.2 528.6L1590.3 531.4L1590.4 534.3L1590.5 537.2L1590.6 540.1L1590.7 543.0L1590.8 545.9L1590.9 548.7L1591.0 551.6L1591.1 554.4L1591.2 557.1L1591.3 559.8L1591.4 562.4L1591.5 565.0L1591.7 568.6L1591.8 572.1L1592.0 575.5L1592.1 578.7L1592.3 581.9L1592.4 585.1L1592.6 588.1L1592.7 591.1L1592.9 594.0L1593.0 596.9L1593.2 599.7L1593.3 602.5L1593.5 605.3L1593.6 608.0L1593.8 610.8L1593.9 613.7L1594.1 616.5L1594.2 619.4L1594.4 622.3L1594.5 625.0L1594.7 627.7L1594.8 630.3"/>
<path d="M1595.1 634.8L1595.3 637.4L1595.6 640.0L1595.9 642.8L1596.3 645.4L1596.8 647.9L1597.5 650.5L1598.2 652.0L1599.2 649.4L1599.7 646.6L1600.0 643.7L1600.2 640.7L1600.4 638.1L1600.6 635.3L1600.8 632.8L1600.9 629.8L1601.1 626.7L1601.2 623.3L1601.4 620.0L1601.5 616.6L1601.7 612.9L1601.8 610.4L1601.9 607.8L1602.0 605.2L1602.1 602.6L1602.2 599.9L1602.3 597.2L1602.4 594.6L1602.5 592.0L1602.6 589.4L1602.7 586.9L1602.8 583.3L1603.0 579.8L1603.1 576.6L1603.3 573.5L1603.4 570.5L1603.6 567.5L1603.7 564.6L1603.9 561.7L1604.0 558.7L1604.2 555.6L1604.3 552.4L1604.5 549.1L1604.6 545.5L1604.8 541.7L1604.9 538.9L1605.0 536.0L1605.1 532.9L1605.2 529.7L1605.3 526.5L1605.4 523.3L1605.5 520.1L1605.6 517.0L1605.7 513.9L1605.8 511.0L1605.9 508.3L1606.0 505.7L1606.1 502.1L1606.3 498.7L1606.4 495.3L1606.6 492.1L1606.7 489.0L1606.9 486.0L1607.0 483.0L1607.2 480.1L1607.3 477.3L1607.5 474.5L1607.6 471.7L1607.8 468.9L1607.9 466.2L1608.1 463.4L1608.2 460.7L1608.4 457.9L1608.5 455.2L1608.7 452.5L1608.8 449.9L1609.0 447.3L1609.1 444.7L1609.3 442.2L1609.5 438.9L1609.7 435.8L1609.9 432.8L1610.1 430.0L1610.3 427.3L1610.5 424.5L1610.7 421.8L1610.9 419.1L1611.1 416.5L1611.3 413.4L1611.6 410.6L1611.9 407.7L1612.3 405.0L1612.8 402.4L1613.6 399.8L1614.0 399.5L1615.3 402.0L1616.2 404.6L1616.9 407.2L1617.5 409.9L1618.0 412.7L1618.5 415.3L1619.0 418.0L1619.5 420.6L1619.9 423.2L1620.3 426.0L1620.7 428.8L1621.1 431.6L1621.5 434.2L1621.9 436.9L1622.4 439.4L1622.8 441.9L1623.3 444.6L1623.8 447.1L1624.4 449.7L1625.0 452.2L1625.7 454.8L1626.6 456.5L1628.2 454.0L1629.5 451.4L1630.7 448.9L1632.1 446.3L1633.7 443.8L1636.0 441.3L1638.5 440.0L1643.9 442.5L1648.0 445.0L1651.6 447.5L1657.6 449.6L1660.0 449.8L1666.0 449.0L1668.2 448.5"/>
<path d="M1673.1 447.3L1679.2 446.5L1685.2 446.2L1691.3 446.2L1697.3 446.4L1703.4 447.4L1709.4 448.4L1715.5 449.6L1721.5 451.1L1727.6 452.6L1733.6 454.5L1739.7 456.9L1745.7 459.3L1747.0 459.9"/>
<path d="M1747.0 459.9L1751.9 462.4L1756.0 464.9L1760.1 467.4L1763.9 469.9L1767.2 472.4L1771.0 474.5L1773.6 471.9L1774.6 469.3L1775.3 466.8L1775.8 464.1L1776.2 461.3L1776.7 458.6L1777.2 455.9L1777.9 453.3L1778.6 450.7L1779.0 448.2L1779.4 445.2L1779.6 442.5L1779.9 439.4L1780.1 436.6L1780.3 433.7L1780.5 430.5L1780.6 428.9"/>
<path d="M1781.1 419.7L1781.3 417.2L1781.4 414.7L1781.6 412.2L1781.8 408.9L1782.0 405.6L1782.1 403.0L1782.3 400.3L1782.4 397.6L1782.6 394.8L1782.7 391.9L1782.9 389.1L1783.0 386.2L1783.2 383.3L1783.3 380.4L1783.5 377.6L1783.6 374.8L1783.8 372.1L1783.9 369.4L1784.1 366.8L1784.2 364.2L1784.4 361.6L1784.5 359.1L1784.7 356.6L1784.8 354.1L1785.0 351.6L1785.1 349.0L1785.3 346.5L1785.4 344.0L1785.6 341.5L1785.7 338.9L1785.9 336.3L1786.0 333.7L1786.2 331.0L1786.3 328.4L1786.5 325.8L1786.6 323.2L1786.8 320.7L1786.9 318.0L1787.1 315.4L1787.2 312.7L1787.4 310.0L1787.5 307.2L1787.7 304.4L1787.8 301.5L1788.0 298.4L1788.1 295.3L1788.3 292.0L1788.4 288.3L1788.5 285.8L1788.6 283.2L1788.7 280.5L1788.8 277.7L1788.9 275.0L1789.0 272.2L1789.1 269.4L1789.2 266.7L1789.3 264.1L1789.4 261.6L1789.6 257.9L1789.7 254.6L1789.9 251.4L1790.0 248.3L1790.2 245.3L1790.3 242.3L1790.5 239.4L1790.6 236.6L1790.8 233.8L1790.9 231.1L1791.1 228.5L1791.2 225.9L1791.4 222.6L1791.6 219.4L1791.8 216.3L1792.0 213.4L1792.2 210.6L1792.4 208.0L1792.6 205.4L1792.8 202.8L1793.1 199.8L1793.3 196.7L1793.6 193.7L1793.8 190.6"/>
<path d="M1793.9 190.0L1794.1 187.4L1794.3 184.7L1794.5 181.9L1794.7 179.3L1794.9 176.2L1795.2 173.4L1795.6 170.7L1796.1 168.0L1796.8 165.4L1797.8 162.8L1798.5 162.0L1800.3 164.6L1800.8 165.9"/>
<path d="M1800.8 165.9L1801.5 168.5L1802.1 171.0L1802.5 173.6L1802.8 176.3L1803.2 179.2L1803.5 182.1L1803.8 184.7L1804.1 187.5L1804.4 190.5L1804.7 193.1L1804.9 195.9L1805.2 198.8L1805.4 201.9L1805.6 204.5L1805.8 207.0L1806.0 209.6L1806.2 212.1L1806.5 215.1L1806.7 218.1L1807.0 221.1L1807.2 224.0L1807.5 227.0L1807.7 229.9L1808.0 232.9L1808.2 235.9L1808.5 238.9L1808.7 241.9L1809.0 244.9L1809.2 248.1L1809.4 250.6L1809.6 253.1L1809.8 255.7L1810.0 258.2L1810.2 260.7L1810.4 263.3L1810.6 265.8L1810.8 268.4L1811.0 271.0L1811.2 273.7L1811.4 276.5L1811.6 279.3L1811.8 282.3L1812.0 285.3L1812.2 288.5L1812.4 291.8L1812.6 294.4L1812.7 297.1L1812.9 299.8L1813.0 302.7L1813.2 305.6L1813.3 308.6L1813.5 311.8L1813.6 315.0L1813.8 318.4L1813.9 322.0L1814.1 325.6L1814.2 328.1L1814.3 330.7L1814.4 333.5L1814.5 336.6L1814.6 340.0L1814.7 343.6L1814.8 347.2L1814.9 350.9L1815.0 354.6L1815.1 358.1L1815.2 361.4L1815.3 364.4L1815.4 367.1L1815.5 370.7L1815.7 374.1L1815.8 377.3L1816.0 380.3L1816.1 383.2L1816.3 386.0L1816.4 388.7L1816.6 391.3L1816.7 393.9L1816.9 396.4L1817.0 398.9L1817.2 401.5L1817.3 404.1L1817.5 406.7L1817.6 409.4L1817.8 412.1L1817.9 414.7L1818.1 417.4L1818.2 420.1L1818.4 422.7L1818.5 425.3L1818.7 427.9L1818.8 430.5L1819.0 433.0L1819.2 436.3L1819.4 439.5L1819.6 442.7L1819.8 445.7L1820.0 448.8L1820.2 451.9L1820.4 455.0L1820.6 458.1L1820.8 461.1L1821.0 464.0L1821.2 466.7L1821.4 469.3L1821.5 471.2"/>
<path d="M1821.7 472.9L1821.9 475.5L1822.2 478.3L1822.5 480.8L1823.0 483.5L1824.0 486.0L1825.2 483.3L1825.8 480.8L1826.3 478.1L1826.6 475.5L1826.9 472.6L1827.1 469.8L1827.3 467.3L1827.4 464.5L1827.6 461.6L1827.7 458.6L1827.9 455.6L1828.0 452.8L1828.2 450.1L1828.4 447.0L1828.6 444.1L1828.8 441.3L1829.0 438.6L1829.2 436.0L1829.4 433.5L1829.6 430.9L1829.8 428.4L1830.0 425.9L1830.2 423.3L1830.4 420.7L1830.6 417.9L1830.8 415.1L1831.0 412.1L1831.2 408.9L1831.3 406.3L1831.5 403.6L1831.6 400.8L1831.8 398.0L1831.9 395.1L1832.1 392.2L1832.2 389.3L1832.4 386.5L1832.5 383.8L1832.7 381.1L1832.9 377.8L1833.1 374.9L1833.3 372.2L1833.5 369.6L1833.7 366.5L1834.0 363.5L1834.2 360.7L1834.5 357.9L1834.7 355.2L1835.0 352.7L1835.3 349.8L1835.6 347.2"/>
<path d="M1835.7 345.9L1836.1 343.1L1836.5 340.3L1836.9 337.7L1837.3 335.2L1838.1 332.6L1839.0 331.5L1840.5 334.1L1841.1 336.8L1841.4 339.4L1841.7 342.1L1842.0 345.0L1842.3 347.5L1842.5 350.2L1842.8 352.8L1843.0 355.3L1843.3 358.3L1843.6 360.9L1844.0 363.5L1844.4 366.2L1844.8 368.7L1845.2 371.4L1845.7 374.0L1846.1 376.6L1846.6 379.2L1847.0 381.8L1847.5 384.6L1847.9 387.1L1848.3 389.7L1848.7 392.3L1849.1 395.1L1849.6 397.7L1850.1 400.4L1850.6 402.9L1851.1 405.6L1851.6 408.2L1852.3 409.5L1854.5 406.9L1856.4 404.4L1858.1 401.9L1859.6 399.4L1861.0 396.9L1862.6 394.4L1864.5 392.5L1867.4 395.0L1869.0 397.6L1870.3 400.2L1871.4 402.7L1872.6 405.3L1873.9 407.8L1875.3 410.4L1878.1 412.9L1884.1 414.6L1890.2 415.8L1896.2 417.1L1902.2 419.7L1908.1 422.2L1914.1 424.3L1920.2 425.7L1926.2 426.8L1932.3 427.8L1938.3 428.9L1944.4 430.0L1950.4 431.0L1956.5 431.8L1962.5 432.4L1964.4 432.6"/>
<path d="M1969.0 433.1L1975.1 433.7L1981.1 434.3L1987.2 434.7L1993.2 435.2L1999.3 435.6L2005.3 435.9L2011.4 436.3L2017.4 436.6L2023.5 437.0L2029.5 437.3L2035.6 437.6L2041.6 437.9L2047.7 438.1L2053.7 438.4L2059.8 438.6L2065.8 438.8L2071.9 439.0L2077.9 439.1L2083.6 439.3"/>
<path d="M2084.1 439.3L2090.2 439.4L2096.2 439.6L2102.3 439.7L2108.3 439.7L2114.4 439.8L2120.4 439.9L2126.5 439.9L2132.5 440.0L2138.6 440.1L2144.6 440.2L2150.7 440.3L2156.7 440.3L2160.3 440.4"/>
<path d="M2160.3 440.4L2166.4 440.4L2172.4 440.4L2178.5 440.4L2184.5 440.4L2190.6 440.4L2196.6 440.4L2202.7 440.4L2208.7 440.4L2214.8 440.4L2220.8 440.4L2226.9 440.4L2232.9 440.4L2239.0 440.4L2245.0 440.4L2251.1 440.4L2257.1 440.4L2263.2 440.4L2269.2 440.4L2275.3 440.4L2281.3 440.4L2287.4 440.4L2293.4 440.4L2299.5 440.4L2305.5 440.4L2311.6 440.4L2317.0 440.4"/>
</g>
</g>
<rect x="1839.2" y="57.7" width="468.8" height="167.7" fill="#fff" stroke="#262626" stroke-width="4.4"/>
<path d="M1857.2 104.1H2051.2" stroke="#0000ff" stroke-width="8.5" fill="none"/>
<path d="M1857.2 179H2032.2" stroke="#ff0000" stroke-width="8.5" stroke-dasharray="20.2 18.4" fill="none"/>
<text class="lg" transform="translate(2063.8 125.1) scale(1 1.02)">Nonlinear</text>
<text class="lg" transform="translate(2063.8 199.3) scale(1 1.02)">Linear</text>
</g>
<g id="ax3">
<clipPath id="c3"><rect x="228" y="1004" width="907" height="607"/></clipPath>
<g fill="#262626">
<rect x="230" y="1006" width="4" height="603"/>
<rect x="1129" y="1006" width="4" height="603"/>
<rect x="230" y="1006" width="903" height="4"/>
<rect x="230" y="1605" width="903" height="4"/>
<rect x="454.75" y="1596" width="4" height="11"/>
<rect x="454.75" y="1008" width="4" height="11"/>
<rect x="679.5" y="1596" width="4" height="11"/>
<rect x="679.5" y="1008" width="4" height="11"/>
<rect x="904.25" y="1596" width="4" height="11"/>
<rect x="904.25" y="1008" width="4" height="11"/>
<rect x="232" y="1155.75" width="11" height="4"/>
<rect x="1120" y="1155.75" width="11" height="4"/>
<rect x="232" y="1305.5" width="11" height="4"/>
<rect x="1120" y="1305.5" width="11" height="4"/>
<rect x="232" y="1455.25" width="11" height="4"/>
<rect x="1120" y="1455.25" width="11" height="4"/>
</g>
<text class="tk" text-anchor="middle" transform="translate(232 1686.3) scale(1 1.04)">0</text>
<text class="tk" text-anchor="middle" transform="translate(456.75 1686.3) scale(1 1.04)">10</text>
<text class="tk" text-anchor="middle" transform="translate(681.5 1686.3) scale(1 1.04)">20</text>
<text class="tk" text-anchor="middle" transform="translate(906.25 1686.3) scale(1 1.04)">30</text>
<text class="tk" text-anchor="middle" transform="translate(1131 1686.3) scale(1 1.04)">40</text>
<text class="tk" text-anchor="end" transform="translate(214.8 1031.5) scale(1 1.04)">40</text>
<text class="tk" text-anchor="end" transform="translate(214.8 1181.25) scale(1 1.04)">20</text>
<text class="tk" text-anchor="end" transform="translate(214.8 1331) scale(1 1.04)">0</text>
<text class="tk" text-anchor="end" transform="translate(214.8 1480.75) scale(1 1.04)">20</text>
<text class="mn" text-anchor="end" x="148.71" y="1486.55">−</text>
<text class="tk" text-anchor="end" transform="translate(214.8 1630.5) scale(1 1.04)">40</text>
<text class="mn" text-anchor="end" x="148.71" y="1636.3">−</text>
<text class="lb" text-anchor="middle" transform="translate(681.5 1767.3) scale(1 1)">Time, t [s]</text>
<text class="lb" text-anchor="middle" transform="translate(76.8 1308.4) rotate(-90) scale(1 1)" xml:space="preserve">Roll rate, p [deg/s]</text>
<g clip-path="url(#c3)" fill="none" stroke-width="7.7" stroke-linejoin="round">
<path stroke="#0000ff" d="M232.0 1307.5L238.0 1307.5L244.0 1307.5L250.0 1307.5L256.0 1307.5L262.0 1307.5L268.0 1307.5L274.0 1307.5L280.0 1307.5L286.0 1307.5L292.0 1307.5L298.0 1307.5L304.0 1307.5L310.0 1307.5L316.0 1307.5L322.0 1307.5L328.0 1307.5L334.0 1307.5L340.0 1307.5L346.0 1307.5L352.0 1307.5L358.0 1307.4L363.5 1304.8L364.3 1302.3L364.9 1299.5L365.3 1296.8L365.7 1294.0L366.1 1291.0L366.3 1288.1L366.5 1285.2L366.7 1282.1L366.9 1278.8L367.1 1276.2L367.2 1273.6L367.4 1270.9L367.5 1268.3L367.7 1265.6L367.8 1262.6L368.0 1259.4L368.1 1256.2L368.3 1252.9L368.4 1249.6L368.6 1246.4L368.7 1243.3L368.9 1240.2L369.0 1236.8L369.2 1233.4L369.3 1230.1L369.5 1226.9L369.6 1223.9L369.8 1221.4L370.0 1218.8L370.3 1216.2L370.7 1213.5L371.2 1210.9L372.0 1208.3L373.7 1205.8L375.1 1208.4L375.8 1210.9L376.2 1213.5L376.5 1216.4L376.8 1219.4L377.0 1222.2L377.2 1224.7L377.3 1227.5L377.5 1230.6L377.6 1233.8L377.8 1237.3L377.9 1240.9L378.1 1244.5L378.2 1247.1L378.3 1249.9L378.4 1252.8L378.5 1255.9L378.6 1259.2L378.7 1262.7L378.8 1266.4L378.9 1270.3L379.0 1274.9L379.1 1280.0L379.1 1282.6L379.2 1285.3L379.2 1288.0L379.3 1290.6L379.3 1293.3L379.4 1295.9L379.4 1298.5L379.5 1301.1L379.5 1303.8L379.6 1306.4L379.6 1309.1L379.7 1312.0L379.7 1314.8L379.8 1317.9L379.8 1321.0L379.9 1324.4L379.9 1328.3L380.0 1332.4L380.0 1336.7L380.1 1341.1L380.1 1345.6L380.2 1349.9L380.2 1354.1L380.3 1358.1L380.3 1361.7L380.4 1364.8L380.4 1367.4L380.5 1371.8L380.6 1375.9L380.7 1379.7L380.8 1383.2L380.9 1386.4L381.0 1389.3L381.1 1391.9L381.3 1395.4L381.4 1398.4L381.6 1401.0L381.8 1404.1L382.0 1406.7L382.2 1409.2L382.6 1411.8L383.0 1413.5L383.7 1410.9L384.1 1408.0L384.3 1405.2L384.5 1402.6L384.7 1399.8L384.9 1396.9L385.1 1394.4L385.2 1391.6L385.4 1388.7L385.5 1385.6L385.7 1382.4L385.8 1379.2L386.0 1376.1L386.1 1373.0L386.3 1370.1L386.4 1367.4L386.6 1364.8L386.7 1362.3L386.9 1359.7L387.1 1356.5L387.3 1353.3L387.5 1350.3L387.7 1347.4L387.9 1344.8L388.1 1341.7L388.4 1338.7L388.6 1336.0L389.0 1333.2L389.6 1330.7L390.2 1329.5L391.2 1332.0L391.7 1334.6L392.0 1337.3L392.4 1340.2L392.7 1342.9L393.0 1345.8L393.2 1348.3L393.5 1350.9L393.7 1353.6L394.0 1356.4L394.2 1359.3L394.5 1362.1L394.7 1365.1L395.0 1368.0L395.2 1370.9L395.5 1373.7L395.7 1376.6L396.0 1379.6L396.2 1382.1L396.4 1384.7L396.6 1387.6L396.8 1390.6L397.0 1393.9L397.1 1396.5L397.3 1399.4L397.4 1402.9L397.5 1405.7L397.6 1408.6L397.7 1411.6L397.8 1414.8L397.9 1418.0L398.0 1421.1L398.1 1424.1L398.2 1426.9L398.3 1429.4L398.5 1433.0L398.6 1436.5L398.8 1440.0L398.9 1443.4L399.1 1446.6L399.2 1449.8L399.4 1452.7L399.5 1455.5L399.7 1458.0L399.9 1461.0L400.1 1463.9L400.3 1466.7L400.5 1469.2L400.7 1472.1L401.0 1474.8L401.5 1477.4L402.4 1479.9L402.5 1480.0L403.4 1477.4L403.9 1474.6L404.1 1472.0L404.2 1469.2L404.4 1465.9L404.5 1462.2L404.6 1459.7L404.7 1457.1L404.8 1454.6L405.0 1451.1L405.1 1447.9L405.3 1444.9L405.4 1442.0L405.6 1439.2L405.7 1436.4L405.9 1433.6L406.0 1430.8L406.2 1428.0L406.3 1425.0L406.5 1421.9L406.6 1418.6L406.8 1415.1L406.9 1411.4L407.0 1408.8L407.1 1406.0L407.2 1403.1L407.3 1400.0L407.4 1396.5L407.5 1392.4L407.6 1387.9L407.7 1382.9L407.8 1380.3L407.8 1377.6L407.9 1374.9L407.9 1372.1L408.0 1369.3L408.0 1366.5L408.1 1363.7L408.1 1360.9L408.2 1358.1L408.2 1355.3L408.3 1352.6L408.3 1349.9L408.4 1347.3L408.4 1344.8L408.5 1340.0L408.6 1335.5L408.7 1331.1L408.8 1326.8L408.9 1322.6L409.0 1318.4L409.1 1314.2L409.2 1310.0L409.3 1305.8L409.4 1301.6L409.5 1297.4L409.6 1293.3L409.7 1289.2L409.8 1285.0L409.9 1280.9L410.0 1276.7L410.1 1272.5L410.2 1268.3L410.3 1264.0L410.4 1259.8L410.5 1255.5L410.6 1251.4L410.7 1247.3L410.8 1243.3L410.9 1239.4L411.0 1235.6L411.1 1231.8L411.2 1228.0L411.3 1224.3L411.4 1220.7L411.5 1217.1L411.6 1213.5L411.7 1210.0L411.8 1206.4L411.9 1202.7L412.0 1199.0L412.1 1195.2L412.2 1191.6L412.3 1188.1L412.4 1184.8L412.5 1181.7L412.6 1179.0L412.8 1175.7L412.9 1172.6L413.1 1169.8L413.2 1167.2L413.4 1164.1L413.7 1161.2L414.0 1158.7L414.5 1156.1L415.0 1155.0L415.9 1157.5L416.4 1160.3L416.7 1163.1L417.0 1165.8L417.2 1168.9L417.4 1171.6L417.6 1174.5L417.8 1177.4L418.0 1180.5L418.2 1183.5L418.4 1186.5L418.6 1189.7L418.8 1192.2L418.9 1194.8L419.1 1197.5L419.2 1200.3L419.4 1203.1L419.5 1206.0L419.7 1209.0L419.8 1212.1L420.0 1215.5L420.1 1219.1L420.3 1222.8L420.4 1226.4L420.6 1229.9L420.7 1233.1L420.9 1235.9L421.0 1238.6L421.2 1241.2L421.3 1243.8L421.5 1247.0L421.7 1250.1L421.9 1253.0L422.1 1255.6L422.4 1258.5L422.7 1261.4L423.0 1264.0L423.3 1266.7L423.7 1269.5L424.2 1272.3L424.7 1275.0L425.2 1277.6L425.8 1280.2L426.5 1282.7L427.2 1285.3L428.1 1287.8L429.3 1290.4L430.7 1292.9L432.4 1295.5L434.4 1298.0L436.7 1300.5L439.6 1303.0L443.8 1305.6L449.8 1307.1L455.8 1307.4L461.8 1307.5L467.8 1307.5L473.8 1307.5L479.8 1307.5L485.8 1307.5L491.8 1307.5L497.8 1307.5L503.8 1307.5L509.8 1307.5L515.8 1307.5L521.8 1307.5L527.8 1307.5L533.8 1307.5L539.8 1307.5L545.8 1307.5L551.8 1307.5L557.8 1307.5L563.8 1307.5L569.8 1307.5L575.8 1307.5L581.8 1307.5L587.8 1307.1L590.1 1304.5L591.4 1301.9L591.9 1299.4L592.4 1296.6L592.7 1294.0L593.1 1291.1L593.4 1288.5L593.6 1285.9L593.8 1283.4L594.0 1280.6L594.2 1277.5L594.4 1274.3L594.6 1271.8L594.7 1269.2L594.9 1266.7L595.0 1264.1L595.2 1261.5L595.3 1258.9L595.5 1256.1L595.6 1253.3L595.8 1250.3L595.9 1247.1L596.1 1243.7L596.2 1240.1L596.3 1237.5L596.4 1234.8L596.5 1231.7L596.6 1228.1L596.7 1224.0L596.8 1219.8L596.9 1215.5L597.0 1211.3L597.1 1207.3L597.2 1203.8L597.3 1200.6L597.4 1197.4L597.5 1194.4L597.6 1191.4L597.7 1188.5L597.8 1185.7L597.9 1183.0L598.0 1180.4L598.1 1177.8L598.3 1174.1L598.4 1170.5L598.6 1166.9L598.7 1163.4L598.9 1160.0L599.0 1157.0L599.2 1154.3L599.4 1151.3L599.6 1148.6L599.8 1146.0L600.0 1143.2L600.4 1140.6L600.5 1140.5L601.2 1143.0L601.5 1145.5L601.9 1148.1L602.2 1150.9L602.5 1153.9L602.8 1156.7L603.0 1159.3L603.2 1162.4L603.3 1165.1L603.5 1168.3L603.6 1171.8L603.7 1174.4L603.8 1177.0L603.9 1179.7L604.0 1182.5L604.1 1185.4L604.2 1188.4L604.3 1191.6L604.4 1195.0L604.5 1198.8L604.6 1202.7L604.7 1206.8L604.8 1210.9L604.9 1215.1L605.0 1219.3L605.1 1223.5L605.2 1227.8L605.3 1232.1L605.4 1236.6L605.5 1241.1L605.6 1245.7L605.7 1250.3L605.8 1255.1L605.9 1260.1L606.0 1262.6L606.0 1265.1L606.1 1267.7L606.1 1270.2L606.2 1272.8L606.2 1275.3L606.3 1280.2L606.4 1285.0L606.5 1289.5L606.6 1293.8L606.7 1298.0L606.8 1302.2L606.9 1306.4L607.0 1310.7L607.1 1315.2L607.2 1320.0L607.3 1322.6L607.3 1325.3L607.4 1328.1L607.4 1331.0L607.5 1334.0L607.5 1337.0L607.6 1340.0L607.6 1343.1L607.7 1346.1L607.7 1349.1L607.8 1352.0L607.8 1354.8L607.9 1357.5L607.9 1360.0L608.0 1364.8L608.1 1369.5L608.2 1373.9L608.3 1378.3L608.4 1382.5L608.5 1386.6L608.6 1390.6L608.7 1394.5L608.8 1398.4L608.9 1402.3L609.0 1406.1L609.1 1410.0L609.2 1413.8L609.3 1417.5L609.4 1421.2L609.5 1424.7L609.6 1428.2L609.7 1431.4L609.8 1434.5L609.9 1437.4L610.0 1440.0L610.2 1443.7L610.3 1447.3L610.5 1450.6L610.6 1453.7L610.8 1456.4L611.0 1459.4L611.2 1462.4L611.5 1464.9L611.7 1466.0L612.2 1463.1L612.5 1460.5L612.7 1457.5L612.9 1454.4L613.1 1451.6L613.2 1448.7L613.4 1445.5L613.5 1442.2L613.7 1438.9L613.8 1435.6L614.0 1432.4L614.1 1429.4L614.3 1426.4L614.4 1423.3L614.6 1420.1L614.7 1416.9L614.9 1413.6L615.0 1410.3L615.2 1407.0L615.3 1403.8L615.5 1400.6L615.6 1397.5L615.8 1394.4L615.9 1391.5L616.1 1388.7L616.2 1386.1L616.4 1382.9L616.6 1379.9L616.8 1377.0L617.0 1374.1L617.2 1371.4L617.4 1368.7L617.6 1366.2L617.9 1363.3L618.1 1360.5L618.4 1357.6L618.7 1355.0L619.1 1352.3L619.5 1349.6L620.0 1346.9L620.8 1344.3L621.5 1343.4L622.6 1345.9L623.1 1348.8L623.4 1351.5L623.7 1354.2L623.9 1357.2L624.1 1359.7L624.3 1362.6L624.5 1365.9L624.7 1368.7L624.8 1371.7L625.0 1374.8L625.1 1377.9L625.3 1381.2L625.4 1384.4L625.6 1387.5L625.7 1390.6L625.9 1393.7L626.0 1396.9L626.2 1400.1L626.3 1403.4L626.5 1406.7L626.6 1410.0L626.8 1413.1L626.9 1416.1L627.1 1419.0L627.2 1421.6L627.4 1424.1L627.5 1426.7L627.7 1429.3L627.9 1432.5L628.1 1435.4L628.3 1438.4L628.7 1440.9L629.2 1443.5L629.5 1444.0L630.3 1441.4L630.7 1438.6L631.2 1435.9L631.6 1433.2L631.9 1430.6L632.2 1428.0L632.5 1425.1L632.8 1422.4L633.0 1419.4L633.2 1416.8L633.4 1413.9L633.6 1411.4L633.7 1408.3L633.9 1404.7L634.0 1401.9L634.1 1399.0L634.2 1395.8L634.3 1392.4L634.4 1388.8L634.5 1384.9L634.6 1380.7L634.7 1375.5L634.7 1372.6L634.8 1369.4L634.8 1366.1L634.9 1362.6L634.9 1359.0L635.0 1355.4L635.0 1351.6L635.1 1347.8L635.1 1344.0L635.2 1340.2L635.2 1336.5L635.3 1332.6L635.3 1328.5L635.4 1324.3L635.4 1319.9L635.5 1315.4L635.5 1311.0L635.6 1306.7L635.6 1302.5L635.7 1298.6L635.7 1295.0L635.8 1291.6L635.8 1288.2L635.9 1285.0L635.9 1281.8L636.0 1278.7L636.0 1275.7L636.1 1272.8L636.1 1270.0L636.2 1267.3L636.2 1264.7L636.3 1260.0L636.4 1255.6L636.5 1251.3L636.6 1247.2L636.7 1243.5L636.8 1240.1L636.9 1237.3L637.1 1234.0L637.2 1231.1L637.4 1228.5L637.6 1225.5L637.9 1223.2L638.7 1225.9L639.1 1228.6L639.5 1231.4L639.8 1234.3L640.0 1236.9L640.3 1239.4L640.6 1242.1L640.9 1244.8L641.3 1247.4L641.7 1250.2L642.1 1252.9L642.5 1255.4L642.9 1258.0L643.4 1260.6L644.0 1263.2L644.6 1265.9L645.2 1268.5L645.8 1271.2L646.4 1273.7L647.0 1276.3L647.6 1278.8L648.3 1281.4L649.0 1284.0L649.9 1286.5L650.8 1289.1L651.9 1291.7L653.1 1294.2L654.9 1296.8L657.3 1299.3L660.6 1301.8L665.2 1304.3L671.2 1306.2L677.2 1307.1L683.2 1307.3L689.2 1307.4L695.2 1307.5L701.2 1307.5L707.2 1307.5L713.2 1307.5L719.2 1307.5L725.2 1307.5L731.2 1307.5L737.2 1307.5L743.2 1307.5L749.2 1307.5L755.2 1307.5L761.2 1307.5L767.2 1307.5L773.2 1307.5L779.2 1307.5L785.2 1307.5L791.2 1307.5L797.2 1307.5L803.2 1307.5L809.2 1307.5L815.2 1307.5L821.2 1307.5L827.2 1307.5L833.2 1307.5L839.2 1307.5L845.2 1307.5L851.2 1307.5L857.2 1307.5L863.2 1307.5L869.2 1307.5L875.2 1307.5L881.2 1307.5L887.2 1307.5L893.2 1307.5L899.2 1307.5L905.2 1307.5L911.2 1307.5L917.2 1307.5L923.2 1307.5L929.2 1307.5L935.2 1307.5L941.2 1307.5L947.2 1307.5L953.2 1307.5L959.2 1307.5L965.2 1307.5L971.2 1307.5L977.2 1307.5L983.2 1307.5L989.2 1307.5L995.2 1307.5L1001.2 1307.5L1007.2 1307.5L1013.2 1307.5L1019.2 1307.5L1025.2 1307.5L1031.2 1307.5L1037.2 1307.5L1043.2 1307.5L1049.2 1307.5L1055.2 1307.5L1061.2 1307.5L1067.2 1307.5L1073.2 1307.5L1079.2 1307.5L1085.2 1307.5L1091.2 1307.5L1097.2 1307.5L1103.2 1307.5L1109.2 1307.5L1115.2 1307.5L1121.2 1307.5L1127.2 1307.5L1131.0 1307.5"/>
<g stroke="#ff0000" stroke-dasharray="20.1 18.25">
<path d="M232.0 1307.5L238.0 1307.5L244.0 1307.5L250.0 1307.5L256.0 1307.5L262.0 1307.5L268.0 1307.5L274.0 1307.5L280.0 1307.5L286.0 1307.5L292.0 1307.5L298.0 1307.5L304.0 1307.5L310.0 1307.5L316.0 1307.5L322.0 1307.5L328.0 1307.5L334.0 1307.5L340.0 1308.1L346.0 1310.1L349.5 1312.6L352.2 1315.1L354.5 1317.7L356.9 1320.2L358.7 1321.7L360.0 1319.1L360.6 1316.5L361.0 1314.0L361.2 1312.2"/>
<path d="M361.2 1312.2L361.4 1309.6L361.7 1306.5L361.9 1303.9L362.1 1300.9L362.2 1297.8L362.3 1295.3L362.4 1292.4L362.5 1289.3L362.6 1286.0L362.7 1282.6L362.8 1279.1L362.9 1275.7"/>
<path d="M362.9 1275.7L363.0 1272.3L363.1 1269.1L363.2 1266.0L363.3 1263.3L363.4 1260.7L363.5 1258.2L363.7 1254.6L363.8 1251.0L364.0 1247.5L364.1 1244.1L364.3 1240.7L364.4 1238.5"/>
<path d="M364.5 1235.3L364.7 1232.1L364.8 1228.9L365.0 1225.7L365.1 1222.6L365.3 1219.6L365.4 1216.7L365.6 1213.9L365.7 1211.1L365.9 1208.4L366.0 1205.6L366.2 1202.8L366.3 1200.9"/>
<path d="M366.3 1200.9L366.4 1197.9L366.6 1194.9L366.7 1191.7L366.9 1188.3L367.0 1184.5L367.1 1181.9L367.2 1179.3L367.3 1178.0"/>
<path d="M367.3 1178.0L367.4 1175.3L367.5 1172.7L367.6 1170.1L367.7 1166.4L367.9 1163.0L368.0 1160.0L368.2 1157.3L368.3 1154.6L368.5 1152.1L368.7 1149.1L368.9 1146.5L369.2 1143.6L369.5 1141.0L370.0 1138.5L370.6 1141.1L370.9 1143.7L371.2 1146.3L371.5 1149.2L371.7 1152.1L371.9 1155.0L372.1 1157.7L372.2 1161.6L372.3 1164.9L372.4 1168.6L372.5 1172.6L372.6 1174.6"/>
<path d="M372.8 1182.7L372.9 1186.6L373.0 1190.1L373.1 1193.2L373.2 1196.0L373.3 1198.7L373.4 1202.4L373.6 1205.9L373.7 1209.6L373.8 1212.1L373.9 1213.4"/>
<path d="M373.9 1213.4L374.0 1216.2L374.1 1219.2L374.2 1222.4L374.3 1226.2L374.4 1230.9L374.4 1233.5L374.5 1236.3L374.5 1239.2L374.6 1242.1L374.6 1244.9L374.7 1247.8L374.7 1250.5"/>
<path stroke-dashoffset="7.1" d="M374.7 1250.5L374.8 1253.0L374.9 1257.4L375.0 1260.8L375.1 1263.7L375.2 1266.5L375.3 1269.1L375.4 1272.6L375.6 1275.9L375.7 1278.9L375.8 1279.9"/>
<path d="M375.8 1279.9L375.9 1282.7L376.1 1285.4L376.2 1288.2L376.4 1290.9L376.6 1294.1L376.8 1296.7L377.0 1299.6L377.3 1302.4L377.5 1305.4L377.7 1308.3L377.9 1310.9"/>
<path d="M377.9 1310.9L378.0 1313.9L378.2 1317.5L378.3 1320.2L378.4 1323.7L378.4 1326.7L378.5 1330.3L378.5 1334.5L378.6 1339.0L378.6 1343.7L378.7 1348.3L378.7 1352.7L378.8 1356.6L378.8 1360.0L378.9 1362.9L378.9 1365.8L379.0 1368.6L379.0 1371.3L379.1 1373.9L379.1 1376.5L379.2 1381.4L379.3 1386.0L379.4 1390.3L379.5 1394.3L379.6 1398.0L379.7 1401.5L379.8 1404.8L379.9 1408.0L380.0 1411.0L380.1 1413.9L380.2 1416.7L380.3 1419.4L380.4 1422.0L380.5 1424.5L380.6 1427.0L380.8 1430.8L380.9 1434.5L381.0 1437.0L381.1 1439.5L381.2 1442.1L381.3 1444.7L381.4 1447.2L381.5 1449.7L381.7 1453.4L381.8 1456.9L382.0 1460.2L382.1 1463.2L382.3 1465.9L382.4 1468.8L382.6 1471.5L382.8 1474.3L382.9 1475.0L383.3 1472.3L383.5 1469.4L383.7 1466.6L383.9 1463.8L384.2 1461.1L384.4 1458.4L384.7 1455.7L384.9 1453.0L385.2 1450.5L385.5 1447.9L385.8 1445.3L386.1 1442.5L386.3 1439.7L386.5 1437.0L386.7 1434.3L386.8 1430.7L386.9 1427.9L387.0 1424.9L387.1 1421.7L387.2 1418.4L387.3 1415.1L387.4 1411.8L387.5 1408.6L387.6 1405.6L387.7 1402.7L387.8 1400.2L388.0 1397.0L388.1 1394.1L388.3 1391.3L388.4 1388.8L388.6 1386.0L388.9 1383.2L389.3 1380.7L389.5 1380.0L390.1 1382.7L390.4 1385.6L390.6 1389.0L390.7 1392.5L390.8 1395.1L390.9 1397.8L391.0 1400.6L391.1 1403.3L391.2 1405.8L391.4 1409.0L391.5 1412.1L391.7 1415.0L391.8 1417.8L392.0 1420.6L392.1 1423.4L392.3 1426.0L392.4 1428.7L392.6 1431.4L392.7 1434.0L392.9 1436.7L393.0 1439.4L393.2 1442.2L393.3 1445.1L393.5 1448.0L393.6 1451.1L393.8 1454.2L393.9 1457.5L394.1 1460.8L394.2 1464.1L394.4 1467.3L394.5 1470.5L394.7 1473.5L394.8 1476.4L395.0 1479.1L395.1 1481.7L395.3 1485.0L395.5 1488.3L395.7 1491.4L395.9 1494.5L396.1 1497.4L396.3 1500.1L396.5 1502.7L396.8 1505.5L397.1 1508.5L397.4 1511.3L397.7 1514.0L398.1 1516.5L398.3 1517.0L398.9 1514.2L399.2 1511.3L399.5 1508.6L399.7 1506.0L399.8 1503.4L400.0 1500.4L400.1 1497.0L400.3 1493.4L400.4 1489.6L400.6 1485.9L400.7 1482.3L400.9 1478.9L401.0 1475.9L401.2 1473.0L401.3 1470.1L401.5 1467.0L401.6 1463.6L401.7 1461.0L401.8 1458.2L401.9 1455.0L402.0 1450.9L402.1 1448.4L402.1 1445.6L402.2 1442.7L402.2 1439.8L402.3 1436.7L402.3 1433.7L402.4 1430.8L402.4 1428.0L402.5 1425.2L402.5 1422.3L402.6 1419.3L402.6 1416.3L402.7 1413.3L402.7 1410.3L402.8 1407.4L402.8 1404.7L402.9 1402.1L403.0 1397.7L403.1 1394.5L403.2 1392.0L403.3 1388.9L403.5 1386.3L403.6 1383.8L403.8 1380.9L403.9 1377.0L404.0 1373.3L404.1 1368.5L404.2 1365.8L404.2 1362.9L404.3 1360.0L404.3 1357.0L404.4 1354.1L404.4 1351.2L404.5 1348.4L404.5 1345.8L404.6 1341.3L404.7 1338.0L404.9 1334.6L405.0 1331.9L405.2 1329.0L405.4 1326.4L405.6 1323.5L405.8 1321.0L405.9 1317.8L406.1 1314.2L406.2 1311.6L406.3 1308.8L406.4 1305.9L406.5 1302.9L406.6 1299.9L406.7 1296.9L406.8 1293.9L406.9 1291.0L407.0 1288.1L407.1 1285.4L407.2 1282.9L407.3 1279.5L407.5 1276.4L407.6 1273.6L407.8 1270.9L407.9 1268.2L408.1 1265.4L408.2 1262.3L408.4 1258.9L408.5 1256.4L408.6 1253.5L408.7 1249.7L408.8 1245.3L408.9 1240.6L409.0 1235.7L409.1 1231.1L409.2 1227.0L409.3 1223.7L409.4 1220.4L409.6 1217.7L409.8 1214.5L410.0 1211.8L410.2 1208.9L410.5 1206.0L410.7 1203.0L410.9 1200.3L411.1 1197.5L411.3 1194.6L411.5 1191.8L411.7 1188.9L411.9 1186.1L412.1 1183.3L412.3 1180.6L412.5 1178.0L412.7 1175.4L413.0 1172.4L413.2 1169.9L413.4 1166.8L413.7 1163.9L413.9 1161.3L414.3 1158.7L414.7 1156.0L415.3 1154.2L416.1 1156.8L416.6 1159.5L417.1 1162.2L417.5 1164.8L417.8 1167.4L418.1 1170.1L418.3 1172.6L418.4 1175.1L418.5 1177.7L418.6 1180.8L418.7 1184.6L418.8 1188.7L418.9 1193.3L419.0 1196.1L419.0 1199.8L419.1 1204.0L419.1 1208.7L419.2 1213.4L419.2 1218.1L419.3 1222.5L419.3 1226.4L419.4 1229.5L419.5 1233.3L419.6 1236.2L419.7 1238.9L419.8 1242.5L420.0 1245.7L420.1 1248.4L420.3 1251.6L420.5 1254.3L420.8 1257.2L421.0 1260.0L421.3 1262.7L421.6 1265.5L421.9 1268.2L422.4 1270.8L423.0 1273.0L423.8 1270.3L424.3 1267.7L424.6 1264.7L424.9 1262.0L425.1 1258.9L425.3 1256.3L425.5 1253.7L425.8 1250.7L426.0 1248.0L426.3 1245.0L426.6 1242.1L426.9 1239.4L427.3 1236.6L427.7 1233.9L428.2 1231.2L428.9 1228.6L429.2 1228.3L430.6 1230.9L431.5 1233.5L432.1 1236.1L432.6 1238.7L433.2 1241.4L433.8 1244.0L434.5 1246.6L435.3 1249.1L435.9 1251.9L436.4 1254.6L436.8 1257.6L437.0 1260.5L437.2 1263.4L437.3 1266.7L437.5 1270.1L437.6 1273.7L437.8 1277.1L437.9 1280.2L438.1 1282.9L438.3 1285.4L438.7 1288.0L439.2 1290.5L440.0 1293.0L440.8 1295.6L441.4 1298.3L441.7 1300.8L442.0 1303.4L442.3 1306.3L442.6 1309.2L442.9 1311.9L443.3 1314.7L443.7 1317.2L444.1 1319.9L444.7 1322.5L445.8 1325.0L447.3 1322.5L448.3 1319.9L449.0 1317.2L449.8 1314.7L450.8 1312.1L451.9 1309.5L453.2 1307.0L454.5 1304.4L455.9 1301.9L457.6 1299.4L460.0 1297.5L464.2 1300.0L466.7 1302.6L468.9 1305.1L471.1 1307.6L475.0 1310.0L481.0 1309.7L487.0 1308.9L493.0 1307.5L493.3 1307.5L498.0 1310.0L501.3 1312.5L503.3 1313.3L505.7 1310.8L507.8 1308.2L510.8 1305.8L516.8 1307.6L518.3 1308.3L524.3 1307.9L530.0 1307.5L536.0 1307.5L542.0 1307.6L548.0 1307.8L550.7 1310.3L556.7 1312.6L562.7 1313.6L568.7 1314.8L571.9 1317.3L572.4 1317.6L573.6 1315.0L574.3 1312.3L575.1 1309.8L577.8 1307.3L583.7 1304.8L585.6 1302.2L586.4 1299.6L587.0 1297.0L587.5 1294.2L587.9 1291.6L588.2 1289.0L588.4 1286.4L588.6 1283.3L588.7 1280.5L588.9 1277.6L589.0 1274.4L589.2 1271.1L589.3 1267.5L589.5 1263.9"/>
<path d="M589.5 1263.9L589.6 1260.2L589.7 1257.7L589.8 1255.1L589.9 1252.6L590.0 1249.9L590.1 1247.0L590.2 1243.8L590.3 1240.4L590.4 1236.9L590.5 1233.3L590.6 1229.6L590.7 1225.9"/>
<path d="M590.7 1225.9L590.8 1222.2L590.9 1218.5L591.0 1215.0L591.1 1211.4L591.2 1207.7L591.3 1203.8L591.4 1199.9L591.5 1196.0L591.6 1192.2L591.7 1188.5"/>
<path d="M591.7 1188.5L591.8 1185.0L591.9 1181.7L592.0 1178.8L592.1 1176.3L592.3 1173.0L592.4 1170.1L592.6 1167.4L592.8 1164.3L593.0 1161.4L593.2 1158.6L593.4 1155.9L593.6 1153.1L593.7 1150.8"/>
<path stroke-dashoffset="7.1" d="M593.9 1148.3L594.0 1145.5L594.2 1142.4L594.3 1138.7L594.4 1135.9L594.5 1132.9L594.6 1129.7L594.7 1126.6"/>
<path d="M594.7 1126.6L594.8 1123.4L594.9 1120.3L595.0 1117.3L595.1 1114.5L595.2 1112.0L595.4 1108.9L595.6 1105.5"/>
<path d="M595.6 1105.5L595.8 1102.3L596.0 1099.5L596.3 1096.7L596.4 1096.3L596.5 1096.4"/>
<path d="M596.5 1096.4L597.0 1099.2L597.3 1102.0L597.6 1105.0L597.9 1108.1L598.1 1111.0L598.3 1114.4L598.3 1115.3"/>
<path d="M598.3 1115.3L598.5 1118.1L598.6 1121.1L598.8 1124.3L598.9 1127.7L599.1 1131.2L599.2 1134.0L599.2 1135.6"/>
<path stroke-dashoffset="4" d="M599.2 1135.6L599.3 1138.9L599.4 1142.4L599.5 1146.1L599.6 1149.9L599.7 1153.8L599.8 1157.7L599.9 1161.4L600.0 1165.0L600.1 1168.4"/>
<path stroke-dashoffset="9.1" d="M600.2 1169.9L600.3 1173.0L600.4 1176.0L600.5 1179.0L600.6 1182.0L600.7 1185.1L600.8 1188.5L600.9 1192.2"/>
<path d="M600.9 1192.2L601.0 1196.2L601.1 1200.7L601.2 1206.0L601.2 1209.5L601.3 1213.5L601.3 1217.8L601.4 1222.2L601.4 1226.7"/>
<path d="M601.5 1230.9L601.5 1234.8L601.6 1238.3L601.6 1241.0L601.7 1245.4L601.8 1249.2L601.9 1252.6L602.0 1255.6L602.1 1258.5L602.2 1259.8"/>
<path d="M602.2 1259.8L602.3 1262.6L602.4 1265.4L602.5 1268.5L602.6 1271.8L602.7 1275.3L602.8 1278.9L602.9 1282.5L603.0 1286.2L603.1 1289.9L603.2 1293.5L603.3 1297.1L603.4 1300.7L603.5 1304.1L603.6 1307.4L603.7 1310.6L603.8 1313.6L603.9 1316.5L604.0 1319.4L604.1 1322.1L604.2 1324.9L604.3 1327.6L604.4 1330.3L604.5 1333.0L604.6 1335.8L604.7 1338.6L604.8 1341.5L604.9 1344.5L605.0 1347.5L605.1 1350.6L605.2 1353.7L605.3 1356.8L605.4 1360.0L605.5 1363.2L605.6 1366.4L605.7 1369.6L605.8 1372.9L605.9 1376.1L606.0 1379.4L606.1 1382.6L606.2 1385.8L606.3 1388.9L606.4 1392.0L606.5 1395.1L606.6 1398.2L606.7 1401.5L606.8 1404.8L606.9 1408.3L607.0 1412.0L607.1 1415.9L607.2 1420.2L607.3 1425.4L607.3 1428.2L607.4 1431.1L607.4 1434.1L607.5 1437.1L607.5 1440.1L607.6 1443.0L607.6 1445.8L607.7 1448.4L607.8 1453.1L607.9 1456.7L608.0 1460.1L608.1 1463.3L608.2 1466.3L608.3 1469.2L608.4 1471.9L608.5 1474.4L608.6 1477.9L608.8 1480.9L608.9 1483.5L609.1 1486.4L609.3 1488.9L609.6 1491.7L609.9 1494.6L610.2 1497.3L610.7 1500.0L611.4 1502.5L611.7 1503.0L612.6 1500.3L613.1 1497.5L613.4 1494.5L613.7 1491.5L614.0 1488.8L614.2 1486.0L614.5 1483.2L614.7 1480.5L615.0 1478.0L615.2 1475.4L615.5 1472.8L615.7 1470.1L616.0 1467.5L616.2 1464.8L616.5 1462.2L616.8 1459.3L617.1 1456.7L617.4 1453.8L617.7 1451.1L618.0 1448.5L618.2 1445.5L618.4 1442.6L618.6 1440.0L618.7 1437.4L618.8 1434.2L618.9 1430.6L619.0 1427.1L619.1 1423.8L619.2 1421.0L619.3 1418.1L619.5 1415.4L619.7 1412.7L619.8 1412.0L620.3 1414.8L620.6 1417.4L620.8 1420.1L620.9 1423.1L621.1 1426.6L621.2 1429.3L621.3 1432.2L621.4 1435.2L621.5 1438.4L621.6 1441.8L621.7 1446.1L621.8 1451.3L621.8 1454.0L621.9 1456.9L621.9 1459.7L622.0 1462.5L622.0 1465.3L622.1 1467.9L622.2 1472.7L622.3 1476.6L622.4 1479.2L622.5 1482.7L622.7 1485.9L622.8 1488.7L623.0 1491.2L623.2 1494.3L623.4 1497.1L623.6 1499.6L623.8 1502.6L624.1 1505.6L624.3 1508.6L624.6 1511.5L624.8 1514.1L625.1 1516.7L625.6 1519.4L626.2 1521.9L626.3 1522.0L626.9 1519.2L627.2 1516.6L627.3 1513.1L627.4 1510.5L627.4 1507.4L627.5 1503.9L627.5 1500.0L627.6 1495.9L627.6 1491.7L627.7 1487.5L627.7 1483.5L627.8 1479.7L627.8 1476.3L627.9 1473.3L628.0 1469.1L628.1 1465.5L628.2 1462.3L628.3 1459.5L628.4 1456.9L628.5 1453.3L628.7 1450.0L628.8 1446.6L629.0 1443.1L629.1 1440.6L629.2 1437.8L629.3 1434.7L629.4 1431.2L629.5 1427.2L629.6 1422.8L629.7 1418.2L629.8 1413.4L629.9 1408.5L630.0 1403.7L630.1 1399.2L630.2 1394.9L630.3 1390.8L630.4 1386.8L630.5 1382.9L630.6 1379.0L630.7 1375.1L630.8 1371.3L630.9 1367.3L631.0 1363.3L631.1 1359.1L631.2 1354.8L631.3 1350.0L631.3 1347.5L631.4 1344.9L631.4 1342.3L631.5 1339.7L631.5 1337.1L631.6 1334.6L631.7 1329.7L631.8 1325.3L631.9 1321.6L632.0 1318.6L632.1 1315.9L632.2 1312.3L632.4 1309.2L632.5 1306.3L632.7 1303.7L632.9 1300.4L633.1 1297.1L633.2 1294.5L633.4 1291.6L633.5 1288.4L633.7 1284.7L633.8 1282.1L633.9 1279.2L634.0 1276.2L634.1 1273.1L634.2 1269.9L634.3 1266.6L634.4 1263.2L634.5 1259.8L634.5 1258.1"/>
<path d="M634.5 1258.1L634.6 1254.7L634.7 1251.3L634.8 1248.0L634.9 1244.6L635.0 1241.0L635.1 1237.3L635.2 1233.6L635.3 1229.8L635.4 1226.1L635.5 1222.4L635.6 1220.7"/>
<path d="M635.6 1220.7L635.7 1217.3L635.8 1214.0L635.9 1211.1L636.0 1208.4L636.1 1205.8L636.2 1202.1L636.4 1198.5L636.5 1195.2L636.7 1192.0L636.8 1189.0L637.0 1186.3L637.1 1183.6L637.2 1182.8"/>
<path d="M637.2 1182.0L637.4 1179.5L637.5 1176.8L637.7 1174.3L637.9 1171.4L638.2 1169.0L638.9 1171.8L639.3 1174.7L639.7 1177.2L640.2 1179.9L640.6 1182.6L641.0 1185.1L641.4 1187.9L641.8 1190.8L642.1 1193.6"/>
<path d="M642.1 1193.6L642.3 1196.2L642.6 1199.1L642.8 1201.7L643.0 1204.6L643.1 1208.0L643.2 1210.9L643.3 1214.2L643.4 1217.8L643.5 1221.6L643.6 1225.5L643.7 1229.4L643.8 1231.2"/>
<path d="M643.8 1231.2L643.9 1234.8L644.0 1238.1L644.1 1241.0L644.2 1244.5L644.4 1248.0L644.5 1251.4L644.7 1254.7L644.8 1258.0L645.0 1261.1L645.1 1264.1L645.3 1266.9L645.4 1269.6L645.6 1272.9L645.8 1275.7L646.1 1278.7L646.4 1281.4L646.7 1283.9L647.1 1286.5L647.6 1289.0L648.3 1290.5L649.1 1288.0L649.5 1285.1L649.8 1282.2L650.1 1279.7L650.5 1276.9L650.8 1274.4L651.2 1271.5L651.5 1269.0L651.8 1266.2L652.2 1263.5L652.8 1260.8L653.7 1258.3L654.0 1258.0L655.5 1260.6L656.5 1263.2L657.6 1265.7L658.5 1268.3L659.4 1270.9L660.1 1273.4L660.8 1275.9L661.4 1278.6L661.8 1281.2L662.2 1283.9L662.6 1286.5L662.9 1289.1L663.3 1291.8L663.6 1294.3L664.0 1297.0L664.4 1299.6L664.8 1302.1L665.2 1304.7L665.6 1307.2L666.1 1310.0L666.5 1312.5L667.0 1315.1L667.6 1317.6L668.1 1320.2L668.7 1322.9L669.5 1325.5L670.0 1326.0L671.4 1323.4L672.2 1320.9L673.1 1318.3L673.8 1315.7L674.4 1313.2L675.1 1310.7L675.8 1308.0L676.7 1305.4L677.7 1302.9L678.7 1300.3L679.9 1297.7L681.2 1295.2L683.1 1292.7L685.7 1290.2L687.5 1289.0L689.7 1291.5L691.0 1294.1L691.8 1296.6L692.6 1299.2L693.5 1301.7L694.6 1304.2L695.7 1306.8L697.1 1309.4L698.0 1310.0L698.5 1309.9"/>
<path d="M698.5 1309.9L700.6 1307.4L702.3 1304.8L705.0 1302.3L709.4 1300.0L715.4 1301.8L721.4 1303.9L727.4 1305.1L731.5 1305.2"/>
<path d="M735.2 1305.3L741.2 1305.6L747.2 1306.0L753.2 1306.6L759.2 1307.0L765.2 1307.1L771.2 1307.2L777.2 1307.3L783.2 1307.4L789.2 1307.5L795.2 1307.5L801.2 1307.5L807.2 1307.5L813.2 1307.5L819.2 1307.5L825.2 1307.5L831.2 1307.5L837.2 1307.5L843.2 1307.5L849.2 1307.5L855.2 1307.5L861.2 1307.5L867.2 1307.5L873.2 1307.5L879.2 1307.5L885.2 1307.5L891.2 1307.5L897.2 1307.5L903.2 1307.5L909.2 1307.5L915.2 1307.5L921.2 1307.5L927.2 1307.5L933.2 1307.5L939.2 1307.5L945.2 1307.5L951.2 1307.5L957.2 1307.5L963.2 1307.5L969.2 1307.5L975.2 1307.5L981.2 1307.5L987.2 1307.5L993.2 1307.5L999.2 1307.5L1005.2 1307.5L1011.2 1307.5L1017.2 1307.5L1023.2 1307.5L1029.2 1307.5L1035.2 1307.5L1041.2 1307.5L1047.2 1307.5L1053.2 1307.5L1059.2 1307.5L1065.2 1307.5L1071.2 1307.5L1077.2 1307.5L1083.2 1307.5L1089.2 1307.5L1095.2 1307.5L1101.2 1307.5L1107.2 1307.5L1113.2 1307.5L1119.2 1307.5L1125.2 1307.5L1131.0 1307.5"/>
</g>
</g>
<rect x="650" y="1008.3" width="469.2" height="168.3" fill="#fff" stroke="#262626" stroke-width="4.4"/>
<path d="M668 1054.7H862" stroke="#0000ff" stroke-width="8.5" fill="none"/>
<path d="M668 1129.6H843" stroke="#ff0000" stroke-width="8.5" stroke-dasharray="20.2 18.4" fill="none"/>
<text class="lg" transform="translate(874.6 1075.7) scale(1 1.02)">Nonlinear</text>
<text class="lg" transform="translate(874.6 1149.9) scale(1 1.02)">Linear</text>
</g>
<g id="ax4">
<clipPath id="c4"><rect x="1412" y="1003" width="909" height="609"/></clipPath>
<g fill="#262626">
<rect x="1414" y="1005" width="5" height="605"/>
<rect x="2315" y="1005" width="4" height="605"/>
<rect x="1414" y="1005" width="905" height="4"/>
<rect x="1414" y="1606" width="905" height="4"/>
<rect x="1639.62" y="1597" width="4" height="11"/>
<rect x="1639.62" y="1007" width="4" height="11"/>
<rect x="1864.75" y="1597" width="4" height="11"/>
<rect x="1864.75" y="1007" width="4" height="11"/>
<rect x="2089.88" y="1597" width="4" height="11"/>
<rect x="2089.88" y="1007" width="4" height="11"/>
<rect x="1416.5" y="1155.25" width="11" height="4"/>
<rect x="2306" y="1155.25" width="11" height="4"/>
<rect x="1416.5" y="1305.5" width="11" height="4"/>
<rect x="2306" y="1305.5" width="11" height="4"/>
<rect x="1416.5" y="1455.75" width="11" height="4"/>
<rect x="2306" y="1455.75" width="11" height="4"/>
</g>
<text class="tk" text-anchor="middle" transform="translate(1416.5 1687.3) scale(1 1.04)">0</text>
<text class="tk" text-anchor="middle" transform="translate(1641.62 1687.3) scale(1 1.04)">10</text>
<text class="tk" text-anchor="middle" transform="translate(1866.75 1687.3) scale(1 1.04)">20</text>
<text class="tk" text-anchor="middle" transform="translate(2091.88 1687.3) scale(1 1.04)">30</text>
<text class="tk" text-anchor="middle" transform="translate(2317 1687.3) scale(1 1.04)">40</text>
<text class="tk" text-anchor="end" transform="translate(1399.3 1030.5) scale(1 1.04)">40</text>
<text class="tk" text-anchor="end" transform="translate(1399.3 1180.75) scale(1 1.04)">20</text>
<text class="tk" text-anchor="end" transform="translate(1399.3 1331) scale(1 1.04)">0</text>
<text class="tk" text-anchor="end" transform="translate(1399.3 1481.25) scale(1 1.04)">20</text>
<text class="mn" text-anchor="end" x="1333.21" y="1487.05">−</text>
<text class="tk" text-anchor="end" transform="translate(1399.3 1631.5) scale(1 1.04)">40</text>
<text class="mn" text-anchor="end" x="1333.21" y="1637.3">−</text>
<text class="lb" text-anchor="middle" transform="translate(1866.75 1768.3) scale(1 1)">Time, t [s]</text>
<text class="lb" text-anchor="middle" transform="translate(1261.3 1309.4) rotate(-90) scale(1 1)" xml:space="preserve">Yaw rate, r [deg/s]</text>
<g clip-path="url(#c4)" fill="none" stroke-width="7.7" stroke-linejoin="round">
<path stroke="#0000ff" d="M1416.5 1307.5L1422.5 1307.5L1428.6 1307.5L1434.6 1307.5L1440.7 1307.5L1446.7 1307.5L1452.8 1307.5L1458.8 1307.5L1464.9 1307.5L1470.9 1307.5L1477.0 1307.5L1483.0 1307.4L1489.1 1307.4L1495.1 1307.4L1501.2 1307.4L1507.2 1307.4L1513.3 1307.3L1519.3 1307.3L1525.4 1307.3L1531.4 1307.3L1537.5 1307.2L1543.5 1306.9L1549.6 1304.8L1551.0 1302.3L1551.9 1299.6L1552.7 1297.0L1553.3 1294.2L1553.7 1291.5L1554.0 1288.8L1554.4 1286.1L1554.7 1283.4L1555.1 1280.7L1555.4 1278.1L1555.7 1275.4L1556.0 1272.8L1556.7 1270.2L1558.2 1268.2L1559.5 1270.8L1560.1 1273.4L1560.3 1275.9L1560.4 1279.1L1560.6 1282.6L1560.7 1285.9L1560.9 1288.5L1561.1 1291.7L1561.3 1294.7L1561.5 1297.6L1561.7 1300.5L1561.9 1303.3L1562.1 1306.2L1562.3 1309.1L1562.5 1312.1L1562.7 1315.0L1562.9 1318.0L1563.1 1321.0L1563.3 1324.0L1563.5 1326.9L1563.7 1329.9L1563.9 1332.9L1564.1 1336.1L1564.3 1339.4L1564.5 1342.7L1564.7 1345.9L1564.9 1348.9L1565.1 1351.6L1565.3 1354.3L1565.6 1357.2L1565.9 1359.8L1566.3 1362.4L1566.8 1364.9L1567.6 1367.4L1568.6 1368.7L1569.4 1366.1L1569.9 1363.3L1570.3 1360.4L1570.5 1357.7L1570.7 1354.9L1570.9 1351.9L1571.1 1348.7L1571.3 1345.5L1571.5 1342.2L1571.7 1339.5L1571.8 1336.8L1572.0 1333.9L1572.1 1331.0L1572.3 1328.0L1572.4 1325.0L1572.6 1321.9L1572.7 1318.7L1572.9 1315.4L1573.0 1312.0L1573.2 1308.5L1573.3 1305.1L1573.5 1301.7L1573.6 1298.2L1573.8 1294.6L1573.9 1291.0L1574.1 1287.5L1574.2 1284.1L1574.4 1281.1L1574.5 1278.4L1574.7 1275.9L1574.8 1273.4L1575.0 1270.2L1575.2 1267.4L1575.5 1264.6L1575.9 1261.9L1576.4 1259.3L1576.9 1258.5L1577.9 1261.0L1578.4 1263.7L1578.6 1266.4L1578.8 1269.4L1579.0 1272.6L1579.2 1275.8L1579.4 1278.7L1579.7 1281.6L1579.9 1284.3L1580.2 1287.0L1580.4 1289.5L1580.7 1292.4L1581.0 1295.3L1581.3 1298.2L1581.6 1301.2L1581.9 1303.8L1582.1 1306.4L1582.4 1309.2L1582.6 1311.9L1582.9 1314.6L1583.1 1317.2L1583.4 1320.1L1583.7 1322.8L1584.1 1325.5L1584.4 1328.1L1584.8 1330.9L1585.3 1333.5L1585.9 1336.0L1586.9 1338.6L1587.3 1338.9L1588.7 1336.4L1589.5 1333.7L1590.1 1331.1L1590.6 1328.5L1591.1 1325.8L1591.5 1323.0L1591.9 1320.4L1592.2 1317.9L1592.5 1315.2L1592.8 1312.3L1593.1 1309.4L1593.4 1306.4L1593.7 1303.6L1594.0 1300.8L1594.3 1298.1L1594.6 1295.3L1594.9 1292.6L1595.2 1289.8L1595.5 1287.0L1595.8 1284.2L1596.1 1281.3L1596.4 1278.3L1596.7 1275.3L1596.9 1272.8L1597.2 1270.3L1597.4 1267.7L1597.7 1265.0L1597.9 1262.2L1598.2 1259.4L1598.4 1256.4L1598.6 1253.8L1598.8 1250.9L1599.0 1248.0L1599.2 1245.0L1599.4 1242.0L1599.6 1239.2L1599.8 1236.5L1600.1 1233.5L1600.3 1230.6L1600.6 1227.6L1600.8 1224.8L1601.1 1222.2L1601.4 1219.5L1601.8 1216.8L1602.3 1214.1L1602.9 1211.5L1603.8 1209.0L1604.3 1208.6L1605.4 1211.2L1605.9 1213.9L1606.4 1216.7L1606.7 1219.7L1606.9 1222.8L1607.1 1225.3L1607.3 1227.8L1607.5 1230.4L1607.7 1233.2L1607.9 1236.1L1608.1 1239.1L1608.3 1242.3L1608.5 1245.5L1608.7 1248.8L1608.9 1251.3L1609.0 1253.9L1609.2 1256.7L1609.3 1259.5L1609.5 1262.4L1609.6 1265.3L1609.8 1268.1L1609.9 1271.0L1610.1 1273.7L1610.2 1276.5L1610.4 1279.2L1610.5 1281.9L1610.7 1284.6L1610.8 1287.4L1611.0 1290.2L1611.1 1293.2L1611.3 1296.3L1611.4 1299.5L1611.6 1302.8L1611.7 1306.2L1611.9 1309.7L1612.0 1313.1L1612.2 1316.5L1612.3 1319.8L1612.5 1323.1L1612.6 1326.4L1612.8 1329.8L1612.9 1333.1L1613.1 1336.6L1613.2 1340.1L1613.4 1343.8L1613.5 1346.3L1613.6 1348.8L1613.7 1351.4L1613.8 1354.0L1613.9 1356.6L1614.0 1359.1L1614.1 1361.6L1614.2 1365.3L1614.4 1368.7L1614.5 1371.9L1614.7 1375.1L1614.8 1378.1L1615.0 1381.0L1615.1 1383.9L1615.3 1386.8L1615.4 1389.6L1615.6 1392.5L1615.7 1395.4L1615.9 1398.4L1616.0 1401.5L1616.2 1404.9L1616.3 1408.3L1616.5 1411.6L1616.6 1414.8L1616.8 1417.6L1617.0 1420.8L1617.2 1423.7L1617.4 1426.3L1617.7 1428.2L1618.1 1425.6L1618.4 1422.9L1618.6 1420.3L1618.9 1417.3L1619.2 1414.7L1619.4 1411.8L1619.7 1408.7L1619.9 1406.1L1620.1 1403.2L1620.3 1400.1L1620.4 1397.5L1620.6 1394.6L1620.7 1391.3L1620.9 1387.6L1621.0 1385.1L1621.1 1382.4L1621.2 1379.7L1621.3 1377.0L1621.4 1374.2L1621.5 1371.4L1621.6 1368.7L1621.7 1365.9L1621.8 1363.1L1621.9 1360.1L1622.0 1357.1L1622.1 1354.0L1622.2 1350.9L1622.3 1347.9L1622.4 1344.8L1622.5 1341.8L1622.6 1338.9L1622.7 1336.0L1622.8 1333.1L1622.9 1330.3L1623.0 1327.4L1623.1 1324.6L1623.2 1321.9L1623.3 1319.2L1623.4 1316.5L1623.5 1313.9L1623.6 1311.4L1623.7 1307.6L1623.9 1304.0L1624.0 1300.3L1624.2 1296.7L1624.3 1292.9L1624.4 1290.3L1624.5 1287.5L1624.6 1284.8L1624.7 1282.0L1624.8 1279.4L1625.0 1275.8L1625.1 1272.7L1625.3 1269.6L1625.5 1266.7L1625.7 1264.1L1626.0 1261.4L1626.3 1258.7L1627.0 1256.1L1628.1 1254.0L1629.3 1256.7L1629.9 1259.3L1630.3 1262.3L1630.5 1265.1L1630.8 1268.2L1631.0 1270.7L1631.2 1273.8L1631.4 1276.4L1631.6 1279.3L1631.8 1282.2L1632.0 1285.3L1632.2 1288.5L1632.4 1291.7L1632.6 1295.0L1632.8 1297.7L1632.9 1300.5L1633.1 1303.4L1633.2 1306.3L1633.4 1309.2L1633.5 1312.1L1633.7 1314.8L1633.8 1317.3L1634.0 1320.6L1634.2 1323.8L1634.4 1326.9L1634.6 1329.9L1634.8 1332.8L1635.0 1335.6L1635.2 1338.3L1635.4 1340.8L1635.6 1343.4L1635.8 1346.0L1636.1 1348.8L1636.4 1351.6L1636.8 1354.2L1637.4 1356.7L1637.5 1356.7L1638.4 1354.0L1638.9 1351.3L1639.3 1348.5L1639.7 1345.7L1640.0 1343.0L1640.3 1340.5L1640.6 1337.8L1641.0 1335.2L1641.3 1332.6L1641.7 1330.1L1642.1 1327.4L1642.5 1324.8L1643.1 1322.1L1643.7 1319.4L1644.4 1316.8L1645.3 1314.3L1646.6 1311.7L1648.5 1309.2L1652.2 1306.7L1653.1 1306.6L1659.1 1307.5L1665.2 1307.5L1671.2 1307.5L1677.3 1307.5L1683.3 1307.5L1689.4 1307.5L1695.4 1307.5L1701.5 1307.5L1707.5 1307.5L1713.6 1307.5L1719.6 1307.5L1725.7 1307.5L1731.7 1307.5L1737.8 1307.5L1743.8 1307.5L1749.9 1307.5L1755.9 1307.5L1762.0 1307.5L1768.0 1307.5L1774.1 1307.4L1777.6 1304.8L1778.3 1302.3L1778.9 1299.5L1779.3 1296.7L1779.6 1294.2L1779.9 1291.4L1780.2 1288.8L1780.4 1286.1L1780.7 1283.4L1780.9 1280.6L1781.1 1278.1L1781.3 1275.2L1781.5 1272.1L1781.7 1268.9L1781.9 1265.7L1782.1 1262.7L1782.3 1259.9L1782.6 1256.8L1782.8 1253.8L1783.1 1250.9L1783.3 1248.0L1783.6 1245.4L1783.9 1242.6L1784.3 1239.9L1784.9 1237.4L1785.7 1234.8L1786.4 1234.0L1787.6 1236.7L1788.1 1239.5L1788.4 1242.4L1788.6 1245.4L1788.8 1248.6L1789.0 1251.9L1789.1 1254.7L1789.3 1257.7L1789.4 1261.0L1789.6 1264.3L1789.7 1267.7L1789.9 1271.2L1790.0 1274.5L1790.2 1277.8L1790.3 1281.1L1790.5 1284.5L1790.6 1288.0L1790.8 1291.6L1790.9 1295.3L1791.0 1298.0L1791.1 1300.9L1791.2 1304.2L1791.3 1307.6L1791.4 1310.9L1791.5 1314.0L1791.6 1316.7L1791.8 1319.8L1792.0 1322.8L1792.2 1325.7L1792.4 1328.3L1792.6 1331.2L1792.9 1333.9L1793.2 1336.5L1793.6 1339.3L1794.2 1341.8L1795.2 1344.3L1797.1 1346.5L1799.1 1343.9L1800.1 1341.3L1800.7 1338.5L1801.0 1335.8L1801.3 1332.8L1801.6 1329.9L1801.8 1327.2L1801.9 1324.3L1802.1 1320.7L1802.2 1318.1L1802.3 1315.5L1802.4 1312.8L1802.5 1310.3L1802.6 1306.9L1802.8 1303.4L1802.9 1299.9L1803.1 1296.4L1803.2 1293.2L1803.4 1290.4L1803.6 1287.5L1803.8 1284.8L1804.0 1282.2L1804.2 1279.2L1804.5 1276.5L1804.8 1273.7L1805.2 1271.1L1806.0 1268.5L1807.3 1266.0L1808.8 1264.9L1810.0 1267.5L1810.5 1270.1L1811.0 1272.7L1811.4 1275.3L1811.8 1278.2L1812.1 1280.8L1812.4 1283.6L1812.6 1286.2L1812.8 1289.1L1813.0 1292.4L1813.2 1294.9L1813.3 1297.4L1813.5 1300.7L1813.7 1303.7L1813.9 1306.5L1814.1 1309.5L1814.3 1312.6L1814.5 1315.7L1814.7 1318.8L1814.9 1321.8L1815.1 1324.8L1815.3 1327.6L1815.5 1330.1L1815.8 1333.0L1816.1 1335.7L1816.5 1338.3L1816.9 1341.0L1817.4 1343.6L1818.0 1346.1L1819.1 1348.6L1821.8 1350.7L1823.6 1348.1L1824.5 1345.6L1825.2 1343.0L1825.8 1340.3L1826.3 1337.6L1826.7 1334.8L1827.1 1332.3L1827.4 1329.5L1827.8 1326.6L1828.1 1323.7L1828.5 1321.0L1828.8 1318.1L1829.1 1315.4L1829.4 1312.7L1829.8 1310.1L1830.3 1308.5L1831.3 1311.0L1832.0 1313.6L1832.5 1316.2L1832.9 1318.8L1833.5 1321.4L1834.1 1324.1L1834.8 1326.6L1835.6 1329.2L1837.2 1331.8L1839.6 1333.0L1842.1 1330.5L1843.4 1327.9L1844.4 1325.3L1845.2 1322.7L1845.9 1320.2L1846.6 1317.6L1847.6 1315.0L1848.7 1312.5L1850.3 1309.9L1856.3 1308.0L1862.4 1307.6L1868.4 1307.3L1870.6 1307.3L1876.6 1307.3L1882.7 1307.4L1888.7 1307.4L1894.8 1307.5L1900.8 1307.5L1906.9 1307.5L1912.9 1307.5L1919.0 1307.5L1925.0 1307.5L1931.1 1307.5L1937.1 1307.5L1943.2 1307.5L1949.2 1307.5L1955.3 1307.5L1961.3 1307.5L1967.4 1307.5L1973.4 1307.5L1979.5 1307.5L1985.5 1307.5L1991.6 1307.5L1997.6 1307.5L2003.7 1307.5L2009.7 1307.5L2015.8 1307.5L2021.8 1307.5L2027.9 1307.5L2033.9 1307.5L2040.0 1307.5L2046.0 1307.5L2052.1 1307.5L2058.1 1307.5L2064.2 1307.5L2070.2 1307.5L2076.3 1307.5L2082.3 1307.5L2088.4 1307.5L2094.4 1307.5L2100.5 1307.5L2106.5 1307.5L2112.6 1307.5L2118.6 1307.5L2124.7 1307.5L2130.7 1307.5L2136.8 1307.5L2142.8 1307.5L2148.9 1307.5L2154.9 1307.5L2161.0 1307.5L2167.0 1307.5L2173.1 1307.5L2179.1 1307.5L2185.2 1307.5L2191.2 1307.5L2197.3 1307.5L2203.3 1307.5L2209.4 1307.5L2215.4 1307.5L2221.5 1307.5L2227.5 1307.5L2233.6 1307.5L2239.6 1307.5L2245.7 1307.5L2251.7 1307.5L2257.8 1307.5L2263.8 1307.5L2269.9 1307.5L2275.9 1307.5L2282.0 1307.5L2288.0 1307.5L2294.1 1307.5L2300.1 1307.5L2306.2 1307.5L2312.2 1307.5L2317.0 1307.5"/>
<g stroke="#ff0000" stroke-dasharray="20.1 18.25">
<path d="M1416.5 1307.5L1422.5 1307.5L1428.6 1307.5L1434.6 1307.5L1440.7 1307.5L1446.7 1307.5L1452.8 1307.5L1458.8 1307.5L1464.9 1307.5L1470.9 1307.5L1477.0 1307.5L1483.0 1307.5L1489.1 1307.5L1495.1 1307.5L1501.2 1307.5L1507.2 1307.5L1513.3 1307.5L1519.3 1307.5L1525.4 1307.5L1531.4 1308.9L1536.5 1311.4L1539.9 1313.9L1542.5 1316.5L1544.9 1319.0L1548.0 1321.3L1548.8 1318.7L1549.2 1315.8L1549.4 1312.9L1549.6 1309.6L1549.7 1306.9L1549.8 1303.9L1549.9 1300.8L1550.0 1297.7L1550.1 1294.8L1550.2 1292.2L1550.3 1289.0L1550.5 1286.3L1550.6 1283.7L1550.8 1280.4L1551.0 1277.3L1551.2 1274.5L1551.4 1271.7L1551.6 1269.0L1551.8 1266.3"/>
<path d="M1552.2 1261.6L1552.4 1258.8L1552.6 1255.9L1552.8 1252.8L1553.0 1249.5L1553.1 1247.0L1553.3 1244.3L1553.4 1241.6L1553.6 1238.9L1553.7 1236.1L1553.9 1233.3L1554.0 1230.5L1554.2 1227.6L1554.3 1224.8L1554.5 1222.0L1554.6 1219.2L1554.8 1216.4L1554.9 1213.7L1555.1 1211.0L1555.2 1208.3L1555.4 1205.6L1555.5 1202.8L1555.7 1200.1L1555.8 1197.3L1556.0 1194.6L1556.1 1191.9L1556.3 1189.2L1556.4 1186.6L1556.6 1184.0L1556.7 1181.5L1556.9 1178.3L1557.1 1175.2L1557.3 1172.3L1557.5 1169.3L1557.7 1166.4L1557.9 1163.5L1558.1 1160.9L1558.4 1157.8L1558.6 1155.3L1559.0 1152.5L1559.3 1149.8L1559.7 1147.4"/>
<path d="M1559.8 1146.6L1560.6 1144.3L1561.5 1146.9L1561.9 1149.5L1562.3 1152.0L1562.6 1154.7L1562.9 1157.4L1563.1 1160.5L1563.3 1163.0L1563.5 1165.7L1563.7 1168.5L1563.9 1171.5L1564.1 1174.8L1564.3 1177.4L1564.4 1180.1L1564.6 1183.0L1564.7 1185.9L1564.9 1188.9L1565.0 1192.1L1565.2 1195.5L1565.3 1199.1L1565.5 1202.9L1565.6 1205.5L1565.7 1208.1L1565.8 1210.8L1565.9 1213.5L1566.0 1216.2L1566.1 1219.0L1566.2 1221.8L1566.3 1224.5L1566.4 1227.3L1566.5 1230.1L1566.6 1232.9L1566.7 1235.9L1566.8 1238.8L1566.9 1241.8L1567.0 1244.9L1567.1 1247.9L1567.2 1250.9L1567.3 1254.0L1567.4 1257.0L1567.5 1260.0L1567.6 1262.9L1567.7 1265.8L1567.8 1268.7L1567.9 1271.5L1568.0 1274.4L1568.1 1277.2L1568.2 1280.1L1568.3 1282.9L1568.4 1285.7L1568.5 1288.4L1568.6 1291.2L1568.7 1293.9L1568.8 1296.6L1568.9 1299.2L1569.0 1301.8L1569.1 1304.3L1569.2 1308.0L1569.4 1311.8L1569.5 1315.5L1569.7 1319.2L1569.8 1322.8L1570.0 1326.3L1570.1 1329.7L1570.3 1333.0L1570.4 1336.2L1570.6 1339.2L1570.7 1342.1L1570.9 1344.8L1571.0 1347.5L1571.2 1350.1L1571.3 1352.8L1571.5 1355.3L1571.6 1357.8L1571.8 1361.1L1572.0 1364.2L1572.2 1367.2L1572.4 1370.1L1572.6 1372.8L1572.9 1375.9L1573.1 1378.6L1573.4 1381.4L1573.8 1384.3L1574.1 1387.0L1574.5 1389.7L1575.0 1392.5L1575.4 1395.0L1575.9 1397.6L1576.4 1400.2L1576.9 1402.7L1577.5 1405.4L1578.1 1408.0L1578.8 1410.6L1579.4 1413.2L1579.9 1415.8L1580.3 1418.3L1580.7 1421.3L1580.9 1424.2L1581.1 1426.8L1581.3 1429.7L1581.5 1432.8L1581.7 1436.0L1581.9 1438.6L1582.0 1441.1L1582.2 1443.7L1582.3 1446.3L1582.5 1448.9L1582.6 1451.4L1582.8 1454.6L1583.0 1457.8L1583.2 1460.9L1583.4 1464.1L1583.6 1467.4L1583.8 1470.7L1584.0 1474.0L1584.2 1477.3L1584.4 1480.6L1584.6 1483.9L1584.7 1484.7"/>
<path d="M1584.7 1484.7L1584.9 1487.8L1585.1 1490.9L1585.3 1493.9L1585.5 1496.7L1585.7 1499.6L1585.9 1502.6L1586.1 1505.5L1586.3 1508.4L1586.5 1511.2L1586.7 1513.8L1586.9 1516.8L1587.2 1519.5L1587.5 1522.0L1587.8 1524.5L1588.2 1527.2L1588.7 1529.7L1589.4 1531.5L1590.3 1528.9L1590.7 1526.2L1591.1 1523.4L1591.5 1520.4L1591.7 1517.7L1591.9 1515.1L1592.1 1512.1L1592.3 1508.8L1592.5 1506.0L1592.6 1503.1L1592.8 1499.9L1592.9 1496.5L1593.1 1492.5L1593.2 1488.9L1593.3 1484.6L1593.4 1480.0L1593.5 1475.2L1593.6 1470.2L1593.7 1465.5L1593.8 1461.0L1593.9 1457.0L1594.0 1453.4L1594.1 1450.0L1594.2 1446.8L1594.3 1443.7L1594.4 1440.6L1594.5 1437.6L1594.6 1434.6L1594.7 1431.6L1594.8 1428.5L1594.9 1425.4L1595.0 1422.1L1595.1 1418.7L1595.2 1415.1L1595.3 1411.5L1595.4 1407.7L1595.5 1403.9L1595.6 1400.0L1595.7 1396.1L1595.8 1392.1L1595.9 1388.1L1596.0 1384.0L1596.1 1380.0L1596.2 1375.9L1596.3 1371.8L1596.4 1367.6L1596.5 1363.4L1596.6 1359.1L1596.7 1354.8L1596.8 1350.6L1596.9 1346.3L1597.0 1342.0L1597.1 1337.7L1597.2 1333.4L1597.3 1329.0L1597.4 1324.6L1597.5 1320.3L1597.6 1315.9L1597.7 1311.6L1597.8 1307.4L1597.9 1303.3L1598.0 1299.3L1598.1 1295.3L1598.2 1291.3L1598.3 1287.4L1598.4 1283.5L1598.5 1279.7L1598.6 1275.9L1598.7 1272.2L1598.8 1268.5L1598.9 1264.8L1599.0 1261.2L1599.1 1257.7L1599.2 1254.3L1599.3 1250.9L1599.4 1247.5L1599.5 1244.2L1599.6 1240.8L1599.7 1237.3L1599.8 1233.8L1599.9 1230.2L1600.0 1226.4L1600.1 1222.4L1600.2 1218.2L1600.3 1213.9L1600.4 1209.4L1600.5 1205.0L1600.6 1200.5L1600.7 1196.2L1600.8 1192.0L1600.9 1188.0L1601.0 1184.2L1601.1 1180.7L1601.2 1177.2L1601.3 1173.8L1601.4 1170.5L1601.5 1167.2L1601.6 1163.9L1601.7 1160.5L1601.8 1157.1L1601.9 1153.5L1602.0 1149.7L1602.1 1145.6L1602.2 1141.1L1602.3 1136.4L1602.4 1131.8L1602.5 1127.3L1602.6 1123.3"/>
<path d="M1602.6 1123.3L1602.7 1120.0L1602.8 1117.1L1602.9 1114.3L1603.0 1111.6L1603.1 1108.0L1603.3 1104.7L1603.4 1102.1L1603.6 1099.4L1603.9 1096.7L1604.2 1093.8L1604.6 1091.2L1604.8 1091.0L1605.5 1093.6L1605.7 1094.9"/>
<path d="M1605.7 1094.9L1606.1 1097.7L1606.4 1100.4L1606.6 1103.1L1606.9 1106.0L1607.1 1109.1L1607.4 1112.3L1607.6 1115.0L1607.8 1117.8L1608.0 1120.8L1608.2 1123.9L1608.4 1126.9L1608.6 1130.0L1608.8 1132.7L1609.0 1135.3L1609.2 1138.1L1609.3 1140.7L1609.5 1144.0L1609.6 1147.4L1609.7 1152.3L1609.7 1155.2L1609.8 1158.3L1609.8 1161.5L1609.9 1164.7L1609.9 1168.0L1610.0 1171.2L1610.0 1174.3L1610.1 1177.2L1610.1 1179.8L1610.2 1184.4L1610.3 1188.5L1610.4 1192.5L1610.5 1196.4L1610.6 1200.1L1610.7 1203.6L1610.8 1207.1L1610.9 1210.4L1611.0 1213.5L1611.1 1216.6L1611.2 1219.6L1611.3 1222.4L1611.4 1225.1L1611.5 1227.6L1611.7 1231.1L1611.8 1234.4L1612.0 1237.6L1612.1 1240.7L1612.3 1243.9L1612.4 1247.2L1612.6 1250.7L1612.7 1253.2L1612.8 1255.9L1612.9 1258.8L1613.0 1262.1L1613.1 1265.9L1613.2 1270.1L1613.3 1274.5L1613.4 1279.0L1613.5 1283.4L1613.6 1287.6L1613.7 1291.4L1613.8 1294.7L1613.9 1297.4L1614.0 1300.7L1614.2 1303.7L1614.3 1306.5L1614.5 1309.0L1614.7 1312.2L1614.9 1315.0L1615.1 1317.6L1615.3 1320.2L1615.5 1323.2L1615.8 1326.2L1616.0 1328.8L1616.2 1331.4L1616.4 1334.3L1616.6 1337.6L1616.7 1340.2L1616.9 1343.0L1617.0 1345.8L1617.2 1348.7L1617.3 1351.4L1617.5 1353.9L1617.7 1356.8L1617.9 1359.7L1618.2 1362.6L1618.5 1365.5L1618.9 1367.2L1620.6 1364.7L1621.6 1362.1L1622.3 1359.5L1622.9 1356.9L1623.4 1354.4L1623.9 1351.6L1624.4 1348.9L1624.8 1346.3L1625.1 1343.6L1625.4 1340.7L1625.7 1337.9L1625.9 1334.9L1626.1 1332.4L1626.3 1329.8L1626.5 1327.2L1626.7 1324.7L1627.0 1321.7L1627.2 1318.9L1627.5 1316.1L1627.8 1313.4L1628.1 1310.8L1628.4 1308.3L1628.8 1305.5L1629.1 1302.9L1629.5 1300.3L1630.0 1297.8L1630.3 1296.6"/>
<path d="M1633.4 1290.1L1635.3 1292.7L1636.6 1295.2L1637.7 1297.8L1638.7 1300.4L1639.7 1303.0L1640.5 1305.6L1641.3 1308.2L1642.3 1310.8L1645.5 1313.3L1648.5 1313.5L1650.0 1311.0L1650.9 1308.4L1651.9 1306.2"/>
<path d="M1654.4 1302.5L1655.5 1302.0L1661.5 1303.7L1665.5 1306.2L1670.4 1308.7L1676.5 1310.5L1682.5 1311.0L1683.0 1311.0L1689.0 1310.8L1690.4 1310.8"/>
<path d="M1691.0 1310.7L1697.1 1309.4L1703.1 1307.6L1709.2 1306.1L1711.2 1306.0L1717.2 1306.3L1723.3 1306.7L1728.4 1307.2"/>
<path d="M1729.5 1307.3L1735.6 1307.5L1741.6 1307.5L1747.7 1307.5L1753.7 1307.5L1759.8 1307.5L1762.9 1307.2"/>
<path d="M1762.9 1307.2L1768.5 1304.7L1770.8 1302.2L1773.4 1299.6L1775.0 1297.1L1776.0 1294.4L1776.5 1291.6L1776.7 1288.6L1776.9 1285.7L1777.0 1282.4L1777.2 1278.9L1777.3 1276.4"/>
<path d="M1777.4 1272.7L1777.6 1269.1L1777.7 1265.7L1777.9 1262.6L1778.0 1259.7L1778.2 1256.8L1778.3 1253.9L1778.5 1251.1L1778.6 1248.2L1778.8 1245.3L1778.9 1242.4L1779.1 1239.5L1779.2 1236.7L1779.4 1233.8L1779.5 1230.9L1779.7 1228.0L1779.8 1225.2L1780.0 1222.3L1780.1 1219.4L1780.3 1216.6L1780.4 1213.8L1780.6 1210.9L1780.7 1208.1L1780.9 1205.3L1781.0 1202.4L1781.2 1199.6L1781.3 1196.7L1781.5 1193.7L1781.6 1190.8L1781.8 1187.8L1781.9 1184.8L1782.1 1181.6L1782.2 1178.3L1782.4 1174.9L1782.5 1171.4L1782.7 1167.9L1782.8 1164.5L1783.0 1161.1L1783.1 1157.8L1783.3 1154.7L1783.4 1151.7L1783.6 1149.0L1783.8 1145.7L1784.0 1142.6L1784.2 1139.6L1784.4 1136.8L1784.6 1134.1L1784.8 1131.0L1785.1 1128.3L1785.4 1125.5L1785.7 1122.7L1786.0 1120.0"/>
<path d="M1786.1 1118.8L1786.5 1116.0L1787.1 1114.4L1788.1 1117.1L1788.5 1119.7L1788.9 1122.4L1789.3 1124.9L1789.6 1127.6L1789.9 1130.4L1790.2 1133.2L1790.4 1136.3L1790.6 1139.0L1790.8 1141.8L1791.0 1144.8L1791.2 1147.9L1791.4 1151.1L1791.6 1154.3L1791.8 1157.6L1792.0 1160.3L1792.1 1163.0L1792.3 1166.0L1792.4 1169.1L1792.6 1172.2L1792.7 1175.5L1792.9 1178.9L1793.0 1182.3L1793.2 1185.7L1793.3 1189.1L1793.5 1192.5L1793.6 1195.9L1793.8 1199.4L1793.9 1203.0L1794.1 1206.6L1794.2 1210.3L1794.4 1214.0L1794.5 1217.7L1794.7 1221.4L1794.8 1225.1L1795.0 1228.8L1795.1 1232.3L1795.3 1235.8L1795.4 1239.2L1795.6 1242.6L1795.7 1245.8L1795.9 1249.1L1796.0 1252.4L1796.2 1255.7L1796.3 1259.0L1796.5 1262.4L1796.6 1265.9L1796.8 1269.4L1796.9 1273.2L1797.0 1275.8L1797.1 1278.5L1797.2 1281.4L1797.3 1284.3L1797.4 1287.2L1797.5 1290.2L1797.6 1293.2L1797.7 1296.1L1797.8 1298.9L1797.9 1301.7L1798.0 1304.4L1798.1 1306.9L1798.3 1310.4L1798.4 1313.6L1798.6 1316.8L1798.7 1319.9L1798.9 1322.8L1799.0 1325.7L1799.2 1328.6L1799.3 1331.3L1799.5 1333.9L1799.6 1336.5L1799.8 1339.7L1800.0 1342.8L1800.2 1345.7L1800.4 1348.4L1800.6 1351.0L1800.9 1354.1L1801.1 1357.1L1801.4 1360.0L1801.6 1362.7L1801.9 1365.4L1802.1 1367.9L1802.4 1370.9L1802.7 1373.7L1803.0 1376.4L1803.3 1379.0L1803.6 1381.6L1804.0 1384.4L1804.3 1387.1L1804.7 1389.7L1805.1 1392.4L1805.5 1395.1L1806.0 1397.9L1806.5 1400.4L1807.1 1403.1L1807.6 1405.8L1808.1 1408.3L1808.6 1411.1L1809.1 1413.8L1809.5 1416.5L1809.8 1419.1L1810.2 1421.9L1810.5 1424.6L1810.7 1427.2L1811.0 1430.4L1811.2 1433.2L1811.4 1436.2L1811.6 1439.5L1811.7 1442.0L1811.9 1444.5L1812.0 1447.1L1812.2 1449.8L1812.3 1452.4L1812.5 1454.9L1812.6 1457.4L1812.8 1460.7L1813.0 1463.8L1813.2 1466.9L1813.4 1470.1L1813.6 1473.4L1813.8 1476.7L1814.0 1479.8L1814.2 1482.9L1814.4 1485.8L1814.6 1488.4L1814.8 1490.7"/>
<path d="M1814.8 1490.7L1815.1 1493.4L1815.3 1495.9L1815.6 1497.0L1816.6 1494.3L1817.1 1491.5L1817.5 1488.9L1817.9 1486.4L1818.2 1483.8L1818.6 1481.0L1818.9 1478.3L1819.1 1475.7L1819.4 1472.6L1819.6 1469.8L1819.8 1466.6L1819.9 1464.0L1820.1 1461.1L1820.2 1457.9L1820.4 1453.8L1820.5 1449.7L1820.6 1444.7L1820.6 1442.0L1820.7 1439.2L1820.7 1436.4L1820.8 1433.5L1820.8 1430.7L1820.9 1427.9L1820.9 1425.3L1821.0 1422.8L1821.1 1418.4L1821.2 1414.6L1821.3 1411.0L1821.4 1407.6L1821.5 1404.3L1821.6 1401.1L1821.7 1398.0L1821.8 1394.9L1821.9 1391.9L1822.0 1388.9L1822.1 1385.9L1822.2 1382.8L1822.3 1379.7L1822.4 1376.5L1822.5 1373.4L1822.6 1370.2L1822.7 1367.1L1822.8 1364.0L1822.9 1360.8L1823.0 1357.7L1823.1 1354.6L1823.2 1351.4L1823.3 1348.2L1823.4 1345.0L1823.5 1341.8L1823.6 1338.5L1823.7 1335.2L1823.8 1331.9L1823.9 1328.5L1824.0 1325.2L1824.1 1321.8L1824.2 1318.4L1824.3 1315.0L1824.4 1311.6L1824.5 1308.2L1824.6 1304.9L1824.7 1301.5L1824.8 1298.2L1824.9 1295.0L1825.0 1291.7L1825.1 1288.5L1825.2 1285.2L1825.3 1281.9L1825.4 1278.6L1825.5 1275.3L1825.6 1271.9L1825.7 1268.4L1825.8 1264.9L1825.9 1261.2L1826.0 1257.4L1826.1 1253.5L1826.2 1249.5L1826.3 1245.4L1826.4 1241.4L1826.5 1237.5L1826.6 1233.6L1826.7 1229.8L1826.8 1226.2L1826.9 1222.7L1827.0 1219.1L1827.1 1215.6L1827.2 1212.1L1827.3 1208.6L1827.4 1205.3L1827.5 1202.0L1827.6 1198.8L1827.7 1195.8L1827.8 1193.0L1827.9 1190.4L1828.0 1186.9L1828.2 1183.6L1828.3 1180.5L1828.5 1177.5L1828.6 1174.8L1828.8 1172.3L1829.0 1169.3L1829.2 1166.7L1829.4 1163.7L1829.7 1160.8L1829.7 1160.2"/>
<path d="M1829.7 1160.2L1830.0 1157.3L1830.5 1155.4L1831.5 1157.9L1832.0 1160.7L1832.4 1163.5L1832.7 1166.3L1833.0 1169.0L1833.2 1172.3L1833.3 1175.3L1833.5 1178.7L1833.6 1182.3L1833.7 1184.8L1833.8 1187.4L1833.9 1189.9L1834.0 1192.4L1834.2 1196.1L1834.3 1199.5L1834.5 1202.9L1834.6 1206.3L1834.8 1209.7L1834.9 1213.1L1835.1 1216.7L1835.2 1220.2L1835.4 1223.9L1835.5 1227.7L1835.6 1230.2L1835.7 1232.9L1835.8 1235.5L1835.9 1238.3L1836.0 1241.3L1836.1 1244.4L1836.2 1247.7L1836.3 1251.1L1836.4 1254.5L1836.5 1257.9L1836.6 1261.2L1836.7 1264.5L1836.8 1267.7L1836.9 1270.7L1837.0 1273.4L1837.1 1275.9L1837.3 1279.5L1837.4 1283.0L1837.6 1286.2L1837.7 1289.4L1837.9 1292.4L1838.0 1295.3L1838.2 1298.2L1838.3 1301.0L1838.5 1303.7L1838.6 1306.5L1838.8 1309.3L1838.9 1312.1L1839.1 1314.9L1839.2 1317.7L1839.4 1320.6L1839.5 1323.5L1839.7 1326.3L1839.8 1329.2L1840.0 1332.0L1840.1 1334.7L1840.3 1337.4L1840.4 1340.1L1840.6 1342.6L1840.8 1345.9L1841.0 1349.0L1841.2 1351.9L1841.4 1354.8L1841.6 1357.8L1841.8 1360.9L1842.0 1364.0L1842.2 1367.0L1842.4 1369.9L1842.6 1372.5L1842.8 1375.5L1843.1 1378.3L1843.7 1380.5L1845.2 1377.9L1845.9 1375.3L1846.6 1372.6L1847.2 1369.9L1847.6 1367.4L1847.9 1364.8L1848.3 1362.0L1848.6 1359.4L1848.9 1356.8L1849.2 1354.0L1849.5 1351.2L1849.8 1348.4L1850.1 1345.6L1850.4 1342.8L1850.7 1340.1L1851.0 1337.6L1851.3 1334.7L1851.7 1332.1L1852.0 1329.4L1852.4 1326.6L1852.7 1323.8L1853.1 1320.9L1853.4 1318.1L1853.8 1315.3L1854.1 1312.6L1854.5 1310.0L1854.9 1307.1L1855.3 1304.5L1855.7 1301.9L1856.3 1299.2L1857.0 1296.7L1857.8 1294.1L1858.7 1291.5L1859.8 1289.0L1861.4 1287.4L1862.1 1290.2L1862.4 1292.7L1862.7 1295.7L1862.9 1298.4L1863.2 1301.2L1863.4 1303.9L1863.7 1306.4L1864.0 1309.1L1864.4 1311.7L1865.1 1314.2L1866.1 1316.7L1867.5 1319.3L1869.1 1321.9L1871.3 1324.4L1871.8 1324.5L1877.3 1322.0L1879.3 1319.5L1880.6 1316.9L1881.7 1314.3L1882.5 1312.7"/>
<path d="M1887.0 1306.1L1888.4 1305.5L1891.1 1308.0L1893.7 1310.5L1896.9 1312.4L1902.9 1310.7L1909.0 1308.6L1915.0 1307.8L1921.1 1307.6L1921.5 1307.5"/>
<path d="M1924.1 1307.5L1930.2 1307.5L1936.2 1307.5L1942.3 1307.5L1948.3 1307.5L1954.4 1307.5L1960.4 1307.5L1966.5 1307.5L1972.5 1307.5L1978.6 1307.5L1984.6 1307.5L1990.7 1307.5L1996.7 1307.5L2002.8 1307.5L2008.8 1307.5L2014.9 1307.5L2020.9 1307.5L2027.0 1307.5L2033.0 1307.5L2039.1 1307.5L2045.1 1307.5L2051.2 1307.5L2057.2 1307.5L2063.3 1307.5L2069.3 1307.5L2075.4 1307.5L2081.4 1307.5L2087.5 1307.5L2093.5 1307.5L2099.6 1307.5L2105.6 1307.5L2111.7 1307.5L2115.5 1307.5"/>
<path d="M2116.3 1307.5L2122.4 1307.5L2128.4 1307.5L2134.5 1307.5L2140.5 1307.5L2146.6 1307.5L2152.6 1307.5L2158.7 1307.5L2164.7 1307.5L2170.8 1307.5L2176.8 1307.5L2182.9 1307.5L2188.9 1307.5L2195.0 1307.5L2201.0 1307.5L2207.1 1307.5L2213.1 1307.5L2219.2 1307.5L2225.2 1307.5L2231.3 1307.5L2237.3 1307.5L2243.4 1307.5L2249.4 1307.5L2255.5 1307.5L2261.5 1307.5L2267.6 1307.5L2273.6 1307.5L2279.7 1307.5L2285.7 1307.5L2291.8 1307.5L2297.8 1307.5L2303.9 1307.5L2309.9 1307.5L2316.0 1307.5L2317.0 1307.5"/>
</g>
</g>
<rect x="1839.2" y="1010.4" width="468.8" height="168" fill="#fff" stroke="#262626" stroke-width="4.4"/>
<path d="M1857.2 1056.8H2051.2" stroke="#0000ff" stroke-width="8.5" fill="none"/>
<path d="M1857.2 1131.7H2032.2" stroke="#ff0000" stroke-width="8.5" stroke-dasharray="20.2 18.4" fill="none"/>
<text class="lg" transform="translate(2063.8 1077.8) scale(1 1.02)">Nonlinear</text>
<text class="lg" transform="translate(2063.8 1152) scale(1 1.02)">Linear</text>
</g>
</svg></body></html>
